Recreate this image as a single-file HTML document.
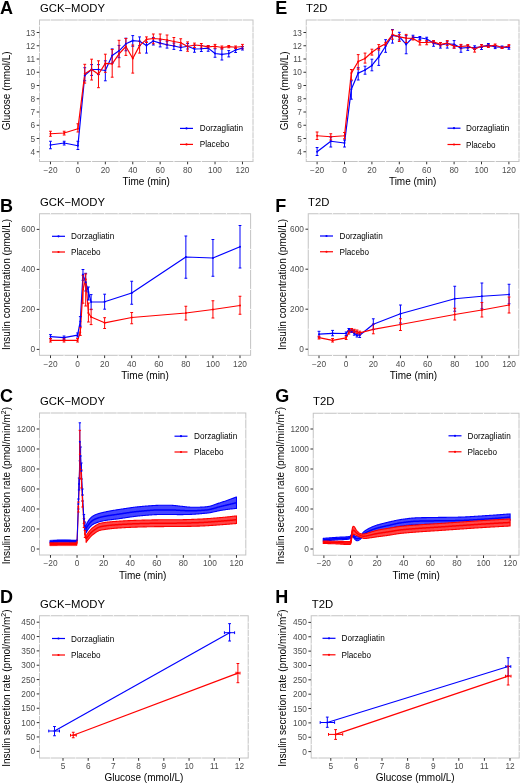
<!DOCTYPE html>
<html><head><meta charset="utf-8"><style>html,body{margin:0;padding:0;background:#fff;width:520px;height:784px;overflow:hidden}</style></head>
<body>
<svg width="520" height="784" viewBox="0 0 520 784" style="display:block;filter:blur(0.3px)">
<rect width="520" height="784" fill="#fff"/>
<g font-family='"Liberation Sans", sans-serif'>
<rect x="39.5" y="20" width="213.5" height="141.5" fill="none" stroke="#c4c4c4" stroke-width="1"/>
<rect x="49.97" y="19.4" width="1" height="1.2" fill="#fff"/>
<rect x="49.97" y="160.9" width="1" height="1.2" fill="#fff"/>
<rect x="63.69" y="19.4" width="1" height="1.2" fill="#fff"/>
<rect x="63.69" y="160.9" width="1" height="1.2" fill="#fff"/>
<rect x="77.4" y="19.4" width="1" height="1.2" fill="#fff"/>
<rect x="77.4" y="160.9" width="1" height="1.2" fill="#fff"/>
<rect x="91.11" y="19.4" width="1" height="1.2" fill="#fff"/>
<rect x="91.11" y="160.9" width="1" height="1.2" fill="#fff"/>
<rect x="104.83" y="19.4" width="1" height="1.2" fill="#fff"/>
<rect x="104.83" y="160.9" width="1" height="1.2" fill="#fff"/>
<rect x="118.54" y="19.4" width="1" height="1.2" fill="#fff"/>
<rect x="118.54" y="160.9" width="1" height="1.2" fill="#fff"/>
<rect x="132.26" y="19.4" width="1" height="1.2" fill="#fff"/>
<rect x="132.26" y="160.9" width="1" height="1.2" fill="#fff"/>
<rect x="145.97" y="19.4" width="1" height="1.2" fill="#fff"/>
<rect x="145.97" y="160.9" width="1" height="1.2" fill="#fff"/>
<rect x="159.68" y="19.4" width="1" height="1.2" fill="#fff"/>
<rect x="159.68" y="160.9" width="1" height="1.2" fill="#fff"/>
<rect x="173.4" y="19.4" width="1" height="1.2" fill="#fff"/>
<rect x="173.4" y="160.9" width="1" height="1.2" fill="#fff"/>
<rect x="187.11" y="19.4" width="1" height="1.2" fill="#fff"/>
<rect x="187.11" y="160.9" width="1" height="1.2" fill="#fff"/>
<rect x="200.83" y="19.4" width="1" height="1.2" fill="#fff"/>
<rect x="200.83" y="160.9" width="1" height="1.2" fill="#fff"/>
<rect x="214.54" y="19.4" width="1" height="1.2" fill="#fff"/>
<rect x="214.54" y="160.9" width="1" height="1.2" fill="#fff"/>
<rect x="228.25" y="19.4" width="1" height="1.2" fill="#fff"/>
<rect x="228.25" y="160.9" width="1" height="1.2" fill="#fff"/>
<rect x="241.97" y="19.4" width="1" height="1.2" fill="#fff"/>
<rect x="241.97" y="160.9" width="1" height="1.2" fill="#fff"/>
<rect x="38.9" y="157.88" width="1.2" height="1" fill="#fff"/>
<rect x="252.4" y="157.88" width="1.2" height="1" fill="#fff"/>
<rect x="38.9" y="151.25" width="1.2" height="1" fill="#fff"/>
<rect x="252.4" y="151.25" width="1.2" height="1" fill="#fff"/>
<rect x="38.9" y="144.62" width="1.2" height="1" fill="#fff"/>
<rect x="252.4" y="144.62" width="1.2" height="1" fill="#fff"/>
<rect x="38.9" y="138" width="1.2" height="1" fill="#fff"/>
<rect x="252.4" y="138" width="1.2" height="1" fill="#fff"/>
<rect x="38.9" y="131.38" width="1.2" height="1" fill="#fff"/>
<rect x="252.4" y="131.38" width="1.2" height="1" fill="#fff"/>
<rect x="38.9" y="124.75" width="1.2" height="1" fill="#fff"/>
<rect x="252.4" y="124.75" width="1.2" height="1" fill="#fff"/>
<rect x="38.9" y="118.12" width="1.2" height="1" fill="#fff"/>
<rect x="252.4" y="118.12" width="1.2" height="1" fill="#fff"/>
<rect x="38.9" y="111.5" width="1.2" height="1" fill="#fff"/>
<rect x="252.4" y="111.5" width="1.2" height="1" fill="#fff"/>
<rect x="38.9" y="104.88" width="1.2" height="1" fill="#fff"/>
<rect x="252.4" y="104.88" width="1.2" height="1" fill="#fff"/>
<rect x="38.9" y="98.25" width="1.2" height="1" fill="#fff"/>
<rect x="252.4" y="98.25" width="1.2" height="1" fill="#fff"/>
<rect x="38.9" y="91.62" width="1.2" height="1" fill="#fff"/>
<rect x="252.4" y="91.62" width="1.2" height="1" fill="#fff"/>
<rect x="38.9" y="85" width="1.2" height="1" fill="#fff"/>
<rect x="252.4" y="85" width="1.2" height="1" fill="#fff"/>
<rect x="38.9" y="78.38" width="1.2" height="1" fill="#fff"/>
<rect x="252.4" y="78.38" width="1.2" height="1" fill="#fff"/>
<rect x="38.9" y="71.75" width="1.2" height="1" fill="#fff"/>
<rect x="252.4" y="71.75" width="1.2" height="1" fill="#fff"/>
<rect x="38.9" y="65.12" width="1.2" height="1" fill="#fff"/>
<rect x="252.4" y="65.12" width="1.2" height="1" fill="#fff"/>
<rect x="38.9" y="58.5" width="1.2" height="1" fill="#fff"/>
<rect x="252.4" y="58.5" width="1.2" height="1" fill="#fff"/>
<rect x="38.9" y="51.88" width="1.2" height="1" fill="#fff"/>
<rect x="252.4" y="51.88" width="1.2" height="1" fill="#fff"/>
<rect x="38.9" y="45.25" width="1.2" height="1" fill="#fff"/>
<rect x="252.4" y="45.25" width="1.2" height="1" fill="#fff"/>
<rect x="38.9" y="38.62" width="1.2" height="1" fill="#fff"/>
<rect x="252.4" y="38.62" width="1.2" height="1" fill="#fff"/>
<rect x="38.9" y="32" width="1.2" height="1" fill="#fff"/>
<rect x="252.4" y="32" width="1.2" height="1" fill="#fff"/>
<rect x="38.9" y="25.38" width="1.2" height="1" fill="#fff"/>
<rect x="252.4" y="25.38" width="1.2" height="1" fill="#fff"/>
<line x1="50.47" y1="161.5" x2="50.47" y2="164.3" stroke="#333333" stroke-width="1"/>
<text x="50.47" y="172.7" font-size="8.3" fill="#4d4d4d" text-anchor="middle">−20</text>
<line x1="77.9" y1="161.5" x2="77.9" y2="164.3" stroke="#333333" stroke-width="1"/>
<text x="77.9" y="172.7" font-size="8.3" fill="#4d4d4d" text-anchor="middle">0</text>
<line x1="105.33" y1="161.5" x2="105.33" y2="164.3" stroke="#333333" stroke-width="1"/>
<text x="105.33" y="172.7" font-size="8.3" fill="#4d4d4d" text-anchor="middle">20</text>
<line x1="132.76" y1="161.5" x2="132.76" y2="164.3" stroke="#333333" stroke-width="1"/>
<text x="132.76" y="172.7" font-size="8.3" fill="#4d4d4d" text-anchor="middle">40</text>
<line x1="160.18" y1="161.5" x2="160.18" y2="164.3" stroke="#333333" stroke-width="1"/>
<text x="160.18" y="172.7" font-size="8.3" fill="#4d4d4d" text-anchor="middle">60</text>
<line x1="187.61" y1="161.5" x2="187.61" y2="164.3" stroke="#333333" stroke-width="1"/>
<text x="187.61" y="172.7" font-size="8.3" fill="#4d4d4d" text-anchor="middle">80</text>
<line x1="215.04" y1="161.5" x2="215.04" y2="164.3" stroke="#333333" stroke-width="1"/>
<text x="215.04" y="172.7" font-size="8.3" fill="#4d4d4d" text-anchor="middle">100</text>
<line x1="242.47" y1="161.5" x2="242.47" y2="164.3" stroke="#333333" stroke-width="1"/>
<text x="242.47" y="172.7" font-size="8.3" fill="#4d4d4d" text-anchor="middle">120</text>
<line x1="36.7" y1="151.75" x2="39.5" y2="151.75" stroke="#333333" stroke-width="1"/>
<text x="35.2" y="154.75" font-size="8.3" fill="#4d4d4d" text-anchor="end">4</text>
<line x1="36.7" y1="138.5" x2="39.5" y2="138.5" stroke="#333333" stroke-width="1"/>
<text x="35.2" y="141.5" font-size="8.3" fill="#4d4d4d" text-anchor="end">5</text>
<line x1="36.7" y1="125.25" x2="39.5" y2="125.25" stroke="#333333" stroke-width="1"/>
<text x="35.2" y="128.25" font-size="8.3" fill="#4d4d4d" text-anchor="end">6</text>
<line x1="36.7" y1="112" x2="39.5" y2="112" stroke="#333333" stroke-width="1"/>
<text x="35.2" y="115" font-size="8.3" fill="#4d4d4d" text-anchor="end">7</text>
<line x1="36.7" y1="98.75" x2="39.5" y2="98.75" stroke="#333333" stroke-width="1"/>
<text x="35.2" y="101.75" font-size="8.3" fill="#4d4d4d" text-anchor="end">8</text>
<line x1="36.7" y1="85.5" x2="39.5" y2="85.5" stroke="#333333" stroke-width="1"/>
<text x="35.2" y="88.5" font-size="8.3" fill="#4d4d4d" text-anchor="end">9</text>
<line x1="36.7" y1="72.25" x2="39.5" y2="72.25" stroke="#333333" stroke-width="1"/>
<text x="35.2" y="75.25" font-size="8.3" fill="#4d4d4d" text-anchor="end">10</text>
<line x1="36.7" y1="59" x2="39.5" y2="59" stroke="#333333" stroke-width="1"/>
<text x="35.2" y="62" font-size="8.3" fill="#4d4d4d" text-anchor="end">11</text>
<line x1="36.7" y1="45.75" x2="39.5" y2="45.75" stroke="#333333" stroke-width="1"/>
<text x="35.2" y="48.75" font-size="8.3" fill="#4d4d4d" text-anchor="end">12</text>
<line x1="36.7" y1="32.5" x2="39.5" y2="32.5" stroke="#333333" stroke-width="1"/>
<text x="35.2" y="35.5" font-size="8.3" fill="#4d4d4d" text-anchor="end">13</text>
<text x="0" y="13.9" font-size="18" font-weight="bold" fill="#000">A</text>
<text x="40" y="12.1" font-size="11.3" fill="#000">GCK−MODY</text>
<text transform="translate(9.9,90.8) rotate(-90)" font-size="10" fill="#000" text-anchor="middle">Glucose (mmol/L)</text>
<text x="146.25" y="185" font-size="10" fill="#000" text-anchor="middle">Time (min)</text>
<line x1="180" y1="128.4" x2="193" y2="128.4" stroke="#0000ff" stroke-width="1.2"/>
<circle cx="186.5" cy="128.4" r="1.1" fill="#0000ff"/>
<text x="199.8" y="131.4" font-size="8.3" fill="#000" textLength="43.2" lengthAdjust="spacingAndGlyphs">Dorzagliatin</text>
<line x1="180" y1="144.4" x2="193" y2="144.4" stroke="#ff0000" stroke-width="1.2"/>
<circle cx="186.5" cy="144.4" r="1.1" fill="#ff0000"/>
<text x="199.8" y="147.4" font-size="8.3" fill="#000" textLength="29.5" lengthAdjust="spacingAndGlyphs">Placebo</text>
<polyline points="50.47,145 64.19,143 77.9,145.75 84.76,75.4 91.61,69.5 98.47,69.5 105.33,70.5 112.19,55.4 119.04,50.8 125.9,43.8 132.76,40.6 139.61,41.25 146.47,45.6 153.33,41 160.18,43.1 167.04,44.75 173.9,46 180.75,47.5 187.61,46.25 194.47,49 201.33,48.75 208.18,48.1 215.04,53.5 221.9,54.4 228.75,53.5 235.61,50 242.47,48.1" fill="none" stroke="#0000ff" stroke-width="1.2" stroke-linejoin="round"/>
<polyline points="50.47,133.75 64.19,133 77.9,128.75 84.76,73.8 91.61,69.5 98.47,74.2 105.33,63.4 112.19,63.8 119.04,53.8 125.9,46.5 132.76,58.5 139.61,45.6 146.47,39.4 153.33,38.5 160.18,39 167.04,40 173.9,41.5 180.75,42.75 187.61,46.5 194.47,45 201.33,45.6 208.18,46.9 215.04,46.25 221.9,47.5 228.75,46.6 235.61,47.25 242.47,46.5" fill="none" stroke="#ff0000" stroke-width="1.2" stroke-linejoin="round"/>
<path d="M50.47,141.25V148.75M49.07,141.25h2.8M49.07,148.75h2.8" stroke="#0000ff" stroke-width="1.0" fill="none"/>
<path d="M64.19,141.25V145M62.79,141.25h2.8M62.79,145h2.8" stroke="#0000ff" stroke-width="1.0" fill="none"/>
<path d="M77.9,141.25V149.5M76.5,141.25h2.8M76.5,149.5h2.8" stroke="#0000ff" stroke-width="1.0" fill="none"/>
<path d="M84.76,67.7V80.8M83.36,67.7h2.8M83.36,80.8h2.8" stroke="#0000ff" stroke-width="1.0" fill="none"/>
<path d="M91.61,64.6V75.4M90.21,64.6h2.8M90.21,75.4h2.8" stroke="#0000ff" stroke-width="1.0" fill="none"/>
<path d="M98.47,64.6V74.6M97.07,64.6h2.8M97.07,74.6h2.8" stroke="#0000ff" stroke-width="1.0" fill="none"/>
<path d="M105.33,60.8V80.8M103.93,60.8h2.8M103.93,80.8h2.8" stroke="#0000ff" stroke-width="1.0" fill="none"/>
<path d="M112.19,48.9V63.1M110.78,48.9h2.8M110.78,63.1h2.8" stroke="#0000ff" stroke-width="1.0" fill="none"/>
<path d="M119.04,45.4V57.7M117.64,45.4h2.8M117.64,57.7h2.8" stroke="#0000ff" stroke-width="1.0" fill="none"/>
<path d="M125.9,38.2V50.8M124.5,38.2h2.8M124.5,50.8h2.8" stroke="#0000ff" stroke-width="1.0" fill="none"/>
<path d="M132.76,35.6V46.25M131.36,35.6h2.8M131.36,46.25h2.8" stroke="#0000ff" stroke-width="1.0" fill="none"/>
<path d="M139.61,36.9V45.6M138.21,36.9h2.8M138.21,45.6h2.8" stroke="#0000ff" stroke-width="1.0" fill="none"/>
<path d="M146.47,41.9V53.1M145.07,41.9h2.8M145.07,53.1h2.8" stroke="#0000ff" stroke-width="1.0" fill="none"/>
<path d="M153.33,37.5V45M151.93,37.5h2.8M151.93,45h2.8" stroke="#0000ff" stroke-width="1.0" fill="none"/>
<path d="M160.18,40V46.9M158.78,40h2.8M158.78,46.9h2.8" stroke="#0000ff" stroke-width="1.0" fill="none"/>
<path d="M167.04,41.25V48.1M165.64,41.25h2.8M165.64,48.1h2.8" stroke="#0000ff" stroke-width="1.0" fill="none"/>
<path d="M173.9,43.1V49.4M172.5,43.1h2.8M172.5,49.4h2.8" stroke="#0000ff" stroke-width="1.0" fill="none"/>
<path d="M180.75,45V50.6M179.35,45h2.8M179.35,50.6h2.8" stroke="#0000ff" stroke-width="1.0" fill="none"/>
<path d="M187.61,43.5V49M186.21,43.5h2.8M186.21,49h2.8" stroke="#0000ff" stroke-width="1.0" fill="none"/>
<path d="M194.47,45.6V52.25M193.07,45.6h2.8M193.07,52.25h2.8" stroke="#0000ff" stroke-width="1.0" fill="none"/>
<path d="M201.33,45.6V51.5M199.93,45.6h2.8M199.93,51.5h2.8" stroke="#0000ff" stroke-width="1.0" fill="none"/>
<path d="M208.18,45.6V51.25M206.78,45.6h2.8M206.78,51.25h2.8" stroke="#0000ff" stroke-width="1.0" fill="none"/>
<path d="M215.04,48.75V57.25M213.64,48.75h2.8M213.64,57.25h2.8" stroke="#0000ff" stroke-width="1.0" fill="none"/>
<path d="M221.9,48.75V60M220.5,48.75h2.8M220.5,60h2.8" stroke="#0000ff" stroke-width="1.0" fill="none"/>
<path d="M228.75,50.6V56.9M227.35,50.6h2.8M227.35,56.9h2.8" stroke="#0000ff" stroke-width="1.0" fill="none"/>
<path d="M235.61,48.1V52.5M234.21,48.1h2.8M234.21,52.5h2.8" stroke="#0000ff" stroke-width="1.0" fill="none"/>
<path d="M242.47,46.5V50M241.07,46.5h2.8M241.07,50h2.8" stroke="#0000ff" stroke-width="1.0" fill="none"/>
<path d="M50.47,131.25V136.25M49.07,131.25h2.8M49.07,136.25h2.8" stroke="#ff0000" stroke-width="1.0" fill="none"/>
<path d="M64.19,131.25V135M62.79,131.25h2.8M62.79,135h2.8" stroke="#ff0000" stroke-width="1.0" fill="none"/>
<path d="M77.9,123.75V132M76.5,123.75h2.8M76.5,132h2.8" stroke="#ff0000" stroke-width="1.0" fill="none"/>
<path d="M84.76,64.3V83.1M83.36,64.3h2.8M83.36,83.1h2.8" stroke="#ff0000" stroke-width="1.0" fill="none"/>
<path d="M91.61,59.2V80M90.21,59.2h2.8M90.21,80h2.8" stroke="#ff0000" stroke-width="1.0" fill="none"/>
<path d="M98.47,60.8V87.7M97.07,60.8h2.8M97.07,87.7h2.8" stroke="#ff0000" stroke-width="1.0" fill="none"/>
<path d="M105.33,54.2V72.3M103.93,54.2h2.8M103.93,72.3h2.8" stroke="#ff0000" stroke-width="1.0" fill="none"/>
<path d="M112.19,49.5V77.2M110.78,49.5h2.8M110.78,77.2h2.8" stroke="#ff0000" stroke-width="1.0" fill="none"/>
<path d="M119.04,40.3V66.9M117.64,40.3h2.8M117.64,66.9h2.8" stroke="#ff0000" stroke-width="1.0" fill="none"/>
<path d="M125.9,38.5V55.4M124.5,38.5h2.8M124.5,55.4h2.8" stroke="#ff0000" stroke-width="1.0" fill="none"/>
<path d="M132.76,45V73.1M131.36,45h2.8M131.36,73.1h2.8" stroke="#ff0000" stroke-width="1.0" fill="none"/>
<path d="M139.61,41.25V53.1M138.21,41.25h2.8M138.21,53.1h2.8" stroke="#ff0000" stroke-width="1.0" fill="none"/>
<path d="M146.47,36.9V42.5M145.07,36.9h2.8M145.07,42.5h2.8" stroke="#ff0000" stroke-width="1.0" fill="none"/>
<path d="M153.33,34V43.75M151.93,34h2.8M151.93,43.75h2.8" stroke="#ff0000" stroke-width="1.0" fill="none"/>
<path d="M160.18,34V43.75M158.78,34h2.8M158.78,43.75h2.8" stroke="#ff0000" stroke-width="1.0" fill="none"/>
<path d="M167.04,35V45M165.64,35h2.8M165.64,45h2.8" stroke="#ff0000" stroke-width="1.0" fill="none"/>
<path d="M173.9,37.5V45.6M172.5,37.5h2.8M172.5,45.6h2.8" stroke="#ff0000" stroke-width="1.0" fill="none"/>
<path d="M180.75,38.75V46.9M179.35,38.75h2.8M179.35,46.9h2.8" stroke="#ff0000" stroke-width="1.0" fill="none"/>
<path d="M187.61,41.9V51.25M186.21,41.9h2.8M186.21,51.25h2.8" stroke="#ff0000" stroke-width="1.0" fill="none"/>
<path d="M194.47,43.1V47.5M193.07,43.1h2.8M193.07,47.5h2.8" stroke="#ff0000" stroke-width="1.0" fill="none"/>
<path d="M201.33,43.5V48.1M199.93,43.5h2.8M199.93,48.1h2.8" stroke="#ff0000" stroke-width="1.0" fill="none"/>
<path d="M208.18,45.6V48.1M206.78,45.6h2.8M206.78,48.1h2.8" stroke="#ff0000" stroke-width="1.0" fill="none"/>
<path d="M215.04,44.4V48.1M213.64,44.4h2.8M213.64,48.1h2.8" stroke="#ff0000" stroke-width="1.0" fill="none"/>
<path d="M221.9,46V49M220.5,46h2.8M220.5,49h2.8" stroke="#ff0000" stroke-width="1.0" fill="none"/>
<path d="M228.75,45.5V47.8M227.35,45.5h2.8M227.35,47.8h2.8" stroke="#ff0000" stroke-width="1.0" fill="none"/>
<path d="M235.61,46V48.5M234.21,46h2.8M234.21,48.5h2.8" stroke="#ff0000" stroke-width="1.0" fill="none"/>
<path d="M242.47,44.4V48.75M241.07,44.4h2.8M241.07,48.75h2.8" stroke="#ff0000" stroke-width="1.0" fill="none"/>
<circle cx="50.47" cy="145" r="1.0" fill="#0000ff"/>
<circle cx="64.19" cy="143" r="1.0" fill="#0000ff"/>
<circle cx="77.9" cy="145.75" r="1.0" fill="#0000ff"/>
<circle cx="84.76" cy="75.4" r="1.0" fill="#0000ff"/>
<circle cx="91.61" cy="69.5" r="1.0" fill="#0000ff"/>
<circle cx="98.47" cy="69.5" r="1.0" fill="#0000ff"/>
<circle cx="105.33" cy="70.5" r="1.0" fill="#0000ff"/>
<circle cx="112.19" cy="55.4" r="1.0" fill="#0000ff"/>
<circle cx="119.04" cy="50.8" r="1.0" fill="#0000ff"/>
<circle cx="125.9" cy="43.8" r="1.0" fill="#0000ff"/>
<circle cx="132.76" cy="40.6" r="1.0" fill="#0000ff"/>
<circle cx="139.61" cy="41.25" r="1.0" fill="#0000ff"/>
<circle cx="146.47" cy="45.6" r="1.0" fill="#0000ff"/>
<circle cx="153.33" cy="41" r="1.0" fill="#0000ff"/>
<circle cx="160.18" cy="43.1" r="1.0" fill="#0000ff"/>
<circle cx="167.04" cy="44.75" r="1.0" fill="#0000ff"/>
<circle cx="173.9" cy="46" r="1.0" fill="#0000ff"/>
<circle cx="180.75" cy="47.5" r="1.0" fill="#0000ff"/>
<circle cx="187.61" cy="46.25" r="1.0" fill="#0000ff"/>
<circle cx="194.47" cy="49" r="1.0" fill="#0000ff"/>
<circle cx="201.33" cy="48.75" r="1.0" fill="#0000ff"/>
<circle cx="208.18" cy="48.1" r="1.0" fill="#0000ff"/>
<circle cx="215.04" cy="53.5" r="1.0" fill="#0000ff"/>
<circle cx="221.9" cy="54.4" r="1.0" fill="#0000ff"/>
<circle cx="228.75" cy="53.5" r="1.0" fill="#0000ff"/>
<circle cx="235.61" cy="50" r="1.0" fill="#0000ff"/>
<circle cx="242.47" cy="48.1" r="1.0" fill="#0000ff"/>
<circle cx="50.47" cy="133.75" r="1.0" fill="#ff0000"/>
<circle cx="64.19" cy="133" r="1.0" fill="#ff0000"/>
<circle cx="77.9" cy="128.75" r="1.0" fill="#ff0000"/>
<circle cx="84.76" cy="73.8" r="1.0" fill="#ff0000"/>
<circle cx="91.61" cy="69.5" r="1.0" fill="#ff0000"/>
<circle cx="98.47" cy="74.2" r="1.0" fill="#ff0000"/>
<circle cx="105.33" cy="63.4" r="1.0" fill="#ff0000"/>
<circle cx="112.19" cy="63.8" r="1.0" fill="#ff0000"/>
<circle cx="119.04" cy="53.8" r="1.0" fill="#ff0000"/>
<circle cx="125.9" cy="46.5" r="1.0" fill="#ff0000"/>
<circle cx="132.76" cy="58.5" r="1.0" fill="#ff0000"/>
<circle cx="139.61" cy="45.6" r="1.0" fill="#ff0000"/>
<circle cx="146.47" cy="39.4" r="1.0" fill="#ff0000"/>
<circle cx="153.33" cy="38.5" r="1.0" fill="#ff0000"/>
<circle cx="160.18" cy="39" r="1.0" fill="#ff0000"/>
<circle cx="167.04" cy="40" r="1.0" fill="#ff0000"/>
<circle cx="173.9" cy="41.5" r="1.0" fill="#ff0000"/>
<circle cx="180.75" cy="42.75" r="1.0" fill="#ff0000"/>
<circle cx="187.61" cy="46.5" r="1.0" fill="#ff0000"/>
<circle cx="194.47" cy="45" r="1.0" fill="#ff0000"/>
<circle cx="201.33" cy="45.6" r="1.0" fill="#ff0000"/>
<circle cx="208.18" cy="46.9" r="1.0" fill="#ff0000"/>
<circle cx="215.04" cy="46.25" r="1.0" fill="#ff0000"/>
<circle cx="221.9" cy="47.5" r="1.0" fill="#ff0000"/>
<circle cx="228.75" cy="46.6" r="1.0" fill="#ff0000"/>
<circle cx="235.61" cy="47.25" r="1.0" fill="#ff0000"/>
<circle cx="242.47" cy="46.5" r="1.0" fill="#ff0000"/>
<rect x="306.25" y="20" width="212.75" height="141.5" fill="none" stroke="#c4c4c4" stroke-width="1"/>
<rect x="316.6" y="19.4" width="1" height="1.2" fill="#fff"/>
<rect x="316.6" y="160.9" width="1" height="1.2" fill="#fff"/>
<rect x="330.3" y="19.4" width="1" height="1.2" fill="#fff"/>
<rect x="330.3" y="160.9" width="1" height="1.2" fill="#fff"/>
<rect x="344" y="19.4" width="1" height="1.2" fill="#fff"/>
<rect x="344" y="160.9" width="1" height="1.2" fill="#fff"/>
<rect x="357.7" y="19.4" width="1" height="1.2" fill="#fff"/>
<rect x="357.7" y="160.9" width="1" height="1.2" fill="#fff"/>
<rect x="371.4" y="19.4" width="1" height="1.2" fill="#fff"/>
<rect x="371.4" y="160.9" width="1" height="1.2" fill="#fff"/>
<rect x="385.1" y="19.4" width="1" height="1.2" fill="#fff"/>
<rect x="385.1" y="160.9" width="1" height="1.2" fill="#fff"/>
<rect x="398.8" y="19.4" width="1" height="1.2" fill="#fff"/>
<rect x="398.8" y="160.9" width="1" height="1.2" fill="#fff"/>
<rect x="412.5" y="19.4" width="1" height="1.2" fill="#fff"/>
<rect x="412.5" y="160.9" width="1" height="1.2" fill="#fff"/>
<rect x="426.2" y="19.4" width="1" height="1.2" fill="#fff"/>
<rect x="426.2" y="160.9" width="1" height="1.2" fill="#fff"/>
<rect x="439.9" y="19.4" width="1" height="1.2" fill="#fff"/>
<rect x="439.9" y="160.9" width="1" height="1.2" fill="#fff"/>
<rect x="453.6" y="19.4" width="1" height="1.2" fill="#fff"/>
<rect x="453.6" y="160.9" width="1" height="1.2" fill="#fff"/>
<rect x="467.3" y="19.4" width="1" height="1.2" fill="#fff"/>
<rect x="467.3" y="160.9" width="1" height="1.2" fill="#fff"/>
<rect x="481" y="19.4" width="1" height="1.2" fill="#fff"/>
<rect x="481" y="160.9" width="1" height="1.2" fill="#fff"/>
<rect x="494.7" y="19.4" width="1" height="1.2" fill="#fff"/>
<rect x="494.7" y="160.9" width="1" height="1.2" fill="#fff"/>
<rect x="508.4" y="19.4" width="1" height="1.2" fill="#fff"/>
<rect x="508.4" y="160.9" width="1" height="1.2" fill="#fff"/>
<rect x="305.65" y="157.88" width="1.2" height="1" fill="#fff"/>
<rect x="518.4" y="157.88" width="1.2" height="1" fill="#fff"/>
<rect x="305.65" y="151.25" width="1.2" height="1" fill="#fff"/>
<rect x="518.4" y="151.25" width="1.2" height="1" fill="#fff"/>
<rect x="305.65" y="144.62" width="1.2" height="1" fill="#fff"/>
<rect x="518.4" y="144.62" width="1.2" height="1" fill="#fff"/>
<rect x="305.65" y="138" width="1.2" height="1" fill="#fff"/>
<rect x="518.4" y="138" width="1.2" height="1" fill="#fff"/>
<rect x="305.65" y="131.38" width="1.2" height="1" fill="#fff"/>
<rect x="518.4" y="131.38" width="1.2" height="1" fill="#fff"/>
<rect x="305.65" y="124.75" width="1.2" height="1" fill="#fff"/>
<rect x="518.4" y="124.75" width="1.2" height="1" fill="#fff"/>
<rect x="305.65" y="118.12" width="1.2" height="1" fill="#fff"/>
<rect x="518.4" y="118.12" width="1.2" height="1" fill="#fff"/>
<rect x="305.65" y="111.5" width="1.2" height="1" fill="#fff"/>
<rect x="518.4" y="111.5" width="1.2" height="1" fill="#fff"/>
<rect x="305.65" y="104.88" width="1.2" height="1" fill="#fff"/>
<rect x="518.4" y="104.88" width="1.2" height="1" fill="#fff"/>
<rect x="305.65" y="98.25" width="1.2" height="1" fill="#fff"/>
<rect x="518.4" y="98.25" width="1.2" height="1" fill="#fff"/>
<rect x="305.65" y="91.62" width="1.2" height="1" fill="#fff"/>
<rect x="518.4" y="91.62" width="1.2" height="1" fill="#fff"/>
<rect x="305.65" y="85" width="1.2" height="1" fill="#fff"/>
<rect x="518.4" y="85" width="1.2" height="1" fill="#fff"/>
<rect x="305.65" y="78.38" width="1.2" height="1" fill="#fff"/>
<rect x="518.4" y="78.38" width="1.2" height="1" fill="#fff"/>
<rect x="305.65" y="71.75" width="1.2" height="1" fill="#fff"/>
<rect x="518.4" y="71.75" width="1.2" height="1" fill="#fff"/>
<rect x="305.65" y="65.12" width="1.2" height="1" fill="#fff"/>
<rect x="518.4" y="65.12" width="1.2" height="1" fill="#fff"/>
<rect x="305.65" y="58.5" width="1.2" height="1" fill="#fff"/>
<rect x="518.4" y="58.5" width="1.2" height="1" fill="#fff"/>
<rect x="305.65" y="51.88" width="1.2" height="1" fill="#fff"/>
<rect x="518.4" y="51.88" width="1.2" height="1" fill="#fff"/>
<rect x="305.65" y="45.25" width="1.2" height="1" fill="#fff"/>
<rect x="518.4" y="45.25" width="1.2" height="1" fill="#fff"/>
<rect x="305.65" y="38.62" width="1.2" height="1" fill="#fff"/>
<rect x="518.4" y="38.62" width="1.2" height="1" fill="#fff"/>
<rect x="305.65" y="32" width="1.2" height="1" fill="#fff"/>
<rect x="518.4" y="32" width="1.2" height="1" fill="#fff"/>
<rect x="305.65" y="25.38" width="1.2" height="1" fill="#fff"/>
<rect x="518.4" y="25.38" width="1.2" height="1" fill="#fff"/>
<line x1="317.1" y1="161.5" x2="317.1" y2="164.3" stroke="#333333" stroke-width="1"/>
<text x="317.1" y="172.7" font-size="8.3" fill="#4d4d4d" text-anchor="middle">−20</text>
<line x1="344.5" y1="161.5" x2="344.5" y2="164.3" stroke="#333333" stroke-width="1"/>
<text x="344.5" y="172.7" font-size="8.3" fill="#4d4d4d" text-anchor="middle">0</text>
<line x1="371.9" y1="161.5" x2="371.9" y2="164.3" stroke="#333333" stroke-width="1"/>
<text x="371.9" y="172.7" font-size="8.3" fill="#4d4d4d" text-anchor="middle">20</text>
<line x1="399.3" y1="161.5" x2="399.3" y2="164.3" stroke="#333333" stroke-width="1"/>
<text x="399.3" y="172.7" font-size="8.3" fill="#4d4d4d" text-anchor="middle">40</text>
<line x1="426.7" y1="161.5" x2="426.7" y2="164.3" stroke="#333333" stroke-width="1"/>
<text x="426.7" y="172.7" font-size="8.3" fill="#4d4d4d" text-anchor="middle">60</text>
<line x1="454.1" y1="161.5" x2="454.1" y2="164.3" stroke="#333333" stroke-width="1"/>
<text x="454.1" y="172.7" font-size="8.3" fill="#4d4d4d" text-anchor="middle">80</text>
<line x1="481.5" y1="161.5" x2="481.5" y2="164.3" stroke="#333333" stroke-width="1"/>
<text x="481.5" y="172.7" font-size="8.3" fill="#4d4d4d" text-anchor="middle">100</text>
<line x1="508.9" y1="161.5" x2="508.9" y2="164.3" stroke="#333333" stroke-width="1"/>
<text x="508.9" y="172.7" font-size="8.3" fill="#4d4d4d" text-anchor="middle">120</text>
<line x1="303.45" y1="151.75" x2="306.25" y2="151.75" stroke="#333333" stroke-width="1"/>
<text x="301.95" y="154.75" font-size="8.3" fill="#4d4d4d" text-anchor="end">4</text>
<line x1="303.45" y1="138.5" x2="306.25" y2="138.5" stroke="#333333" stroke-width="1"/>
<text x="301.95" y="141.5" font-size="8.3" fill="#4d4d4d" text-anchor="end">5</text>
<line x1="303.45" y1="125.25" x2="306.25" y2="125.25" stroke="#333333" stroke-width="1"/>
<text x="301.95" y="128.25" font-size="8.3" fill="#4d4d4d" text-anchor="end">6</text>
<line x1="303.45" y1="112" x2="306.25" y2="112" stroke="#333333" stroke-width="1"/>
<text x="301.95" y="115" font-size="8.3" fill="#4d4d4d" text-anchor="end">7</text>
<line x1="303.45" y1="98.75" x2="306.25" y2="98.75" stroke="#333333" stroke-width="1"/>
<text x="301.95" y="101.75" font-size="8.3" fill="#4d4d4d" text-anchor="end">8</text>
<line x1="303.45" y1="85.5" x2="306.25" y2="85.5" stroke="#333333" stroke-width="1"/>
<text x="301.95" y="88.5" font-size="8.3" fill="#4d4d4d" text-anchor="end">9</text>
<line x1="303.45" y1="72.25" x2="306.25" y2="72.25" stroke="#333333" stroke-width="1"/>
<text x="301.95" y="75.25" font-size="8.3" fill="#4d4d4d" text-anchor="end">10</text>
<line x1="303.45" y1="59" x2="306.25" y2="59" stroke="#333333" stroke-width="1"/>
<text x="301.95" y="62" font-size="8.3" fill="#4d4d4d" text-anchor="end">11</text>
<line x1="303.45" y1="45.75" x2="306.25" y2="45.75" stroke="#333333" stroke-width="1"/>
<text x="301.95" y="48.75" font-size="8.3" fill="#4d4d4d" text-anchor="end">12</text>
<line x1="303.45" y1="32.5" x2="306.25" y2="32.5" stroke="#333333" stroke-width="1"/>
<text x="301.95" y="35.5" font-size="8.3" fill="#4d4d4d" text-anchor="end">13</text>
<text x="275.2" y="13.6" font-size="18" font-weight="bold" fill="#000">E</text>
<text x="306" y="12.1" font-size="11.3" fill="#000">T2D</text>
<text transform="translate(287.9,90.8) rotate(-90)" font-size="10" fill="#000" text-anchor="middle">Glucose (mmol/L)</text>
<text x="412.62" y="185" font-size="10" fill="#000" text-anchor="middle">Time (min)</text>
<line x1="447.5" y1="128.2" x2="460.5" y2="128.2" stroke="#0000ff" stroke-width="1.2"/>
<circle cx="454" cy="128.2" r="1.1" fill="#0000ff"/>
<text x="466" y="131.2" font-size="8.3" fill="#000" textLength="43.2" lengthAdjust="spacingAndGlyphs">Dorzagliatin</text>
<line x1="447.5" y1="144.5" x2="460.5" y2="144.5" stroke="#ff0000" stroke-width="1.2"/>
<circle cx="454" cy="144.5" r="1.1" fill="#ff0000"/>
<text x="466" y="147.5" font-size="8.3" fill="#000" textLength="29.5" lengthAdjust="spacingAndGlyphs">Placebo</text>
<polyline points="317.1,151.75 330.8,141.25 344.5,143 351.35,89.2 358.2,73.1 365.05,70 371.9,65.4 378.75,56.9 385.6,46.2 392.45,35.4 399.3,36.6 406.15,44.4 413,37.25 419.85,37.75 426.7,39 433.55,43.1 440.4,45 447.25,43.75 454.1,44.4 460.95,48.1 467.8,47.5 474.65,47.5 481.5,46.9 488.35,45.2 495.2,46.9 502.05,47.1 508.9,47.5" fill="none" stroke="#0000ff" stroke-width="1.2" stroke-linejoin="round"/>
<polyline points="317.1,135.75 330.8,136.75 344.5,135.75 351.35,73.1 358.2,61.5 365.05,58.5 371.9,52.3 378.75,47.4 385.6,43.8 392.45,34.6 399.3,36.9 406.15,38.1 413,38.5 419.85,42.5 426.7,42.5 433.55,41.9 440.4,44.4 447.25,43.1 454.1,46.25 460.95,46.5 467.8,45.8 474.65,49.2 481.5,46 488.35,46.3 495.2,45.2 502.05,47.5 508.9,46" fill="none" stroke="#ff0000" stroke-width="1.2" stroke-linejoin="round"/>
<path d="M317.1,147.5V155.5M315.7,147.5h2.8M315.7,155.5h2.8" stroke="#0000ff" stroke-width="1.0" fill="none"/>
<path d="M330.8,137V147M329.4,137h2.8M329.4,147h2.8" stroke="#0000ff" stroke-width="1.0" fill="none"/>
<path d="M344.5,140V147M343.1,140h2.8M343.1,147h2.8" stroke="#0000ff" stroke-width="1.0" fill="none"/>
<path d="M351.35,80.8V99.2M349.95,80.8h2.8M349.95,99.2h2.8" stroke="#0000ff" stroke-width="1.0" fill="none"/>
<path d="M358.2,67.7V80M356.8,67.7h2.8M356.8,80h2.8" stroke="#0000ff" stroke-width="1.0" fill="none"/>
<path d="M365.05,66.2V74.2M363.65,66.2h2.8M363.65,74.2h2.8" stroke="#0000ff" stroke-width="1.0" fill="none"/>
<path d="M371.9,59.2V70.8M370.5,59.2h2.8M370.5,70.8h2.8" stroke="#0000ff" stroke-width="1.0" fill="none"/>
<path d="M378.75,48.5V65.4M377.35,48.5h2.8M377.35,65.4h2.8" stroke="#0000ff" stroke-width="1.0" fill="none"/>
<path d="M385.6,39.7V52.3M384.2,39.7h2.8M384.2,52.3h2.8" stroke="#0000ff" stroke-width="1.0" fill="none"/>
<path d="M392.45,29.5V43.1M391.05,29.5h2.8M391.05,43.1h2.8" stroke="#0000ff" stroke-width="1.0" fill="none"/>
<path d="M399.3,32.3V40M397.9,32.3h2.8M397.9,40h2.8" stroke="#0000ff" stroke-width="1.0" fill="none"/>
<path d="M406.15,35.6V53.75M404.75,35.6h2.8M404.75,53.75h2.8" stroke="#0000ff" stroke-width="1.0" fill="none"/>
<path d="M413,35.25V39M411.6,35.25h2.8M411.6,39h2.8" stroke="#0000ff" stroke-width="1.0" fill="none"/>
<path d="M419.85,36.5V39.4M418.45,36.5h2.8M418.45,39.4h2.8" stroke="#0000ff" stroke-width="1.0" fill="none"/>
<path d="M426.7,37.25V41.25M425.3,37.25h2.8M425.3,41.25h2.8" stroke="#0000ff" stroke-width="1.0" fill="none"/>
<path d="M433.55,41V46.25M432.15,41h2.8M432.15,46.25h2.8" stroke="#0000ff" stroke-width="1.0" fill="none"/>
<path d="M440.4,42.5V48.1M439,42.5h2.8M439,48.1h2.8" stroke="#0000ff" stroke-width="1.0" fill="none"/>
<path d="M447.25,41.25V48.1M445.85,41.25h2.8M445.85,48.1h2.8" stroke="#0000ff" stroke-width="1.0" fill="none"/>
<path d="M454.1,40.6V48.1M452.7,40.6h2.8M452.7,48.1h2.8" stroke="#0000ff" stroke-width="1.0" fill="none"/>
<path d="M460.95,45V52.25M459.55,45h2.8M459.55,52.25h2.8" stroke="#0000ff" stroke-width="1.0" fill="none"/>
<path d="M467.8,45.2V50.4M466.4,45.2h2.8M466.4,50.4h2.8" stroke="#0000ff" stroke-width="1.0" fill="none"/>
<path d="M474.65,45.8V49.5M473.25,45.8h2.8M473.25,49.5h2.8" stroke="#0000ff" stroke-width="1.0" fill="none"/>
<path d="M481.5,44.6V49.5M480.1,44.6h2.8M480.1,49.5h2.8" stroke="#0000ff" stroke-width="1.0" fill="none"/>
<path d="M488.35,43.5V46.9M486.95,43.5h2.8M486.95,46.9h2.8" stroke="#0000ff" stroke-width="1.0" fill="none"/>
<path d="M495.2,45.8V48.6M493.8,45.8h2.8M493.8,48.6h2.8" stroke="#0000ff" stroke-width="1.0" fill="none"/>
<path d="M502.05,46V48.5M500.65,46h2.8M500.65,48.5h2.8" stroke="#0000ff" stroke-width="1.0" fill="none"/>
<path d="M508.9,45.8V49.2M507.5,45.8h2.8M507.5,49.2h2.8" stroke="#0000ff" stroke-width="1.0" fill="none"/>
<path d="M317.1,132V139.5M315.7,132h2.8M315.7,139.5h2.8" stroke="#ff0000" stroke-width="1.0" fill="none"/>
<path d="M330.8,133.75V140M329.4,133.75h2.8M329.4,140h2.8" stroke="#ff0000" stroke-width="1.0" fill="none"/>
<path d="M344.5,132.5V138.75M343.1,132.5h2.8M343.1,138.75h2.8" stroke="#ff0000" stroke-width="1.0" fill="none"/>
<path d="M351.35,69.5V80M349.95,69.5h2.8M349.95,80h2.8" stroke="#ff0000" stroke-width="1.0" fill="none"/>
<path d="M358.2,54.6V69.2M356.8,54.6h2.8M356.8,69.2h2.8" stroke="#ff0000" stroke-width="1.0" fill="none"/>
<path d="M365.05,53.1V63.1M363.65,53.1h2.8M363.65,63.1h2.8" stroke="#ff0000" stroke-width="1.0" fill="none"/>
<path d="M371.9,49.2V55.1M370.5,49.2h2.8M370.5,55.1h2.8" stroke="#ff0000" stroke-width="1.0" fill="none"/>
<path d="M378.75,44.6V50M377.35,44.6h2.8M377.35,50h2.8" stroke="#ff0000" stroke-width="1.0" fill="none"/>
<path d="M385.6,42.3V45.4M384.2,42.3h2.8M384.2,45.4h2.8" stroke="#ff0000" stroke-width="1.0" fill="none"/>
<path d="M392.45,30V39.2M391.05,30h2.8M391.05,39.2h2.8" stroke="#ff0000" stroke-width="1.0" fill="none"/>
<path d="M399.3,34.6V41.5M397.9,34.6h2.8M397.9,41.5h2.8" stroke="#ff0000" stroke-width="1.0" fill="none"/>
<path d="M406.15,34.4V42.5M404.75,34.4h2.8M404.75,42.5h2.8" stroke="#ff0000" stroke-width="1.0" fill="none"/>
<path d="M413,36.9V40M411.6,36.9h2.8M411.6,40h2.8" stroke="#ff0000" stroke-width="1.0" fill="none"/>
<path d="M419.85,40.6V45M418.45,40.6h2.8M418.45,45h2.8" stroke="#ff0000" stroke-width="1.0" fill="none"/>
<path d="M426.7,40.6V44.75M425.3,40.6h2.8M425.3,44.75h2.8" stroke="#ff0000" stroke-width="1.0" fill="none"/>
<path d="M433.55,40.6V43.75M432.15,40.6h2.8M432.15,43.75h2.8" stroke="#ff0000" stroke-width="1.0" fill="none"/>
<path d="M440.4,42.5V46M439,42.5h2.8M439,46h2.8" stroke="#ff0000" stroke-width="1.0" fill="none"/>
<path d="M447.25,40.6V45.6M445.85,40.6h2.8M445.85,45.6h2.8" stroke="#ff0000" stroke-width="1.0" fill="none"/>
<path d="M454.1,44.4V48.1M452.7,44.4h2.8M452.7,48.1h2.8" stroke="#ff0000" stroke-width="1.0" fill="none"/>
<path d="M460.95,44.4V48.75M459.55,44.4h2.8M459.55,48.75h2.8" stroke="#ff0000" stroke-width="1.0" fill="none"/>
<path d="M467.8,44.6V48.1M466.4,44.6h2.8M466.4,48.1h2.8" stroke="#ff0000" stroke-width="1.0" fill="none"/>
<path d="M474.65,47.5V52.1M473.25,47.5h2.8M473.25,52.1h2.8" stroke="#ff0000" stroke-width="1.0" fill="none"/>
<path d="M481.5,44.6V47.5M480.1,44.6h2.8M480.1,47.5h2.8" stroke="#ff0000" stroke-width="1.0" fill="none"/>
<path d="M488.35,44.6V47.5M486.95,44.6h2.8M486.95,47.5h2.8" stroke="#ff0000" stroke-width="1.0" fill="none"/>
<path d="M495.2,44V46.9M493.8,44h2.8M493.8,46.9h2.8" stroke="#ff0000" stroke-width="1.0" fill="none"/>
<path d="M502.05,46.5V48.5M500.65,46.5h2.8M500.65,48.5h2.8" stroke="#ff0000" stroke-width="1.0" fill="none"/>
<path d="M508.9,44.6V47.5M507.5,44.6h2.8M507.5,47.5h2.8" stroke="#ff0000" stroke-width="1.0" fill="none"/>
<circle cx="317.1" cy="151.75" r="1.0" fill="#0000ff"/>
<circle cx="330.8" cy="141.25" r="1.0" fill="#0000ff"/>
<circle cx="344.5" cy="143" r="1.0" fill="#0000ff"/>
<circle cx="351.35" cy="89.2" r="1.0" fill="#0000ff"/>
<circle cx="358.2" cy="73.1" r="1.0" fill="#0000ff"/>
<circle cx="365.05" cy="70" r="1.0" fill="#0000ff"/>
<circle cx="371.9" cy="65.4" r="1.0" fill="#0000ff"/>
<circle cx="378.75" cy="56.9" r="1.0" fill="#0000ff"/>
<circle cx="385.6" cy="46.2" r="1.0" fill="#0000ff"/>
<circle cx="392.45" cy="35.4" r="1.0" fill="#0000ff"/>
<circle cx="399.3" cy="36.6" r="1.0" fill="#0000ff"/>
<circle cx="406.15" cy="44.4" r="1.0" fill="#0000ff"/>
<circle cx="413" cy="37.25" r="1.0" fill="#0000ff"/>
<circle cx="419.85" cy="37.75" r="1.0" fill="#0000ff"/>
<circle cx="426.7" cy="39" r="1.0" fill="#0000ff"/>
<circle cx="433.55" cy="43.1" r="1.0" fill="#0000ff"/>
<circle cx="440.4" cy="45" r="1.0" fill="#0000ff"/>
<circle cx="447.25" cy="43.75" r="1.0" fill="#0000ff"/>
<circle cx="454.1" cy="44.4" r="1.0" fill="#0000ff"/>
<circle cx="460.95" cy="48.1" r="1.0" fill="#0000ff"/>
<circle cx="467.8" cy="47.5" r="1.0" fill="#0000ff"/>
<circle cx="474.65" cy="47.5" r="1.0" fill="#0000ff"/>
<circle cx="481.5" cy="46.9" r="1.0" fill="#0000ff"/>
<circle cx="488.35" cy="45.2" r="1.0" fill="#0000ff"/>
<circle cx="495.2" cy="46.9" r="1.0" fill="#0000ff"/>
<circle cx="502.05" cy="47.1" r="1.0" fill="#0000ff"/>
<circle cx="508.9" cy="47.5" r="1.0" fill="#0000ff"/>
<circle cx="317.1" cy="135.75" r="1.0" fill="#ff0000"/>
<circle cx="330.8" cy="136.75" r="1.0" fill="#ff0000"/>
<circle cx="344.5" cy="135.75" r="1.0" fill="#ff0000"/>
<circle cx="351.35" cy="73.1" r="1.0" fill="#ff0000"/>
<circle cx="358.2" cy="61.5" r="1.0" fill="#ff0000"/>
<circle cx="365.05" cy="58.5" r="1.0" fill="#ff0000"/>
<circle cx="371.9" cy="52.3" r="1.0" fill="#ff0000"/>
<circle cx="378.75" cy="47.4" r="1.0" fill="#ff0000"/>
<circle cx="385.6" cy="43.8" r="1.0" fill="#ff0000"/>
<circle cx="392.45" cy="34.6" r="1.0" fill="#ff0000"/>
<circle cx="399.3" cy="36.9" r="1.0" fill="#ff0000"/>
<circle cx="406.15" cy="38.1" r="1.0" fill="#ff0000"/>
<circle cx="413" cy="38.5" r="1.0" fill="#ff0000"/>
<circle cx="419.85" cy="42.5" r="1.0" fill="#ff0000"/>
<circle cx="426.7" cy="42.5" r="1.0" fill="#ff0000"/>
<circle cx="433.55" cy="41.9" r="1.0" fill="#ff0000"/>
<circle cx="440.4" cy="44.4" r="1.0" fill="#ff0000"/>
<circle cx="447.25" cy="43.1" r="1.0" fill="#ff0000"/>
<circle cx="454.1" cy="46.25" r="1.0" fill="#ff0000"/>
<circle cx="460.95" cy="46.5" r="1.0" fill="#ff0000"/>
<circle cx="467.8" cy="45.8" r="1.0" fill="#ff0000"/>
<circle cx="474.65" cy="49.2" r="1.0" fill="#ff0000"/>
<circle cx="481.5" cy="46" r="1.0" fill="#ff0000"/>
<circle cx="488.35" cy="46.3" r="1.0" fill="#ff0000"/>
<circle cx="495.2" cy="45.2" r="1.0" fill="#ff0000"/>
<circle cx="502.05" cy="47.5" r="1.0" fill="#ff0000"/>
<circle cx="508.9" cy="46" r="1.0" fill="#ff0000"/>
<rect x="39.5" y="213.75" width="211.1" height="141.55" fill="none" stroke="#c4c4c4" stroke-width="1"/>
<rect x="50" y="213.15" width="1" height="1.2" fill="#fff"/>
<rect x="50" y="354.7" width="1" height="1.2" fill="#fff"/>
<rect x="63.53" y="213.15" width="1" height="1.2" fill="#fff"/>
<rect x="63.53" y="354.7" width="1" height="1.2" fill="#fff"/>
<rect x="77.07" y="213.15" width="1" height="1.2" fill="#fff"/>
<rect x="77.07" y="354.7" width="1" height="1.2" fill="#fff"/>
<rect x="90.61" y="213.15" width="1" height="1.2" fill="#fff"/>
<rect x="90.61" y="354.7" width="1" height="1.2" fill="#fff"/>
<rect x="104.14" y="213.15" width="1" height="1.2" fill="#fff"/>
<rect x="104.14" y="354.7" width="1" height="1.2" fill="#fff"/>
<rect x="117.68" y="213.15" width="1" height="1.2" fill="#fff"/>
<rect x="117.68" y="354.7" width="1" height="1.2" fill="#fff"/>
<rect x="131.21" y="213.15" width="1" height="1.2" fill="#fff"/>
<rect x="131.21" y="354.7" width="1" height="1.2" fill="#fff"/>
<rect x="144.75" y="213.15" width="1" height="1.2" fill="#fff"/>
<rect x="144.75" y="354.7" width="1" height="1.2" fill="#fff"/>
<rect x="158.29" y="213.15" width="1" height="1.2" fill="#fff"/>
<rect x="158.29" y="354.7" width="1" height="1.2" fill="#fff"/>
<rect x="171.82" y="213.15" width="1" height="1.2" fill="#fff"/>
<rect x="171.82" y="354.7" width="1" height="1.2" fill="#fff"/>
<rect x="185.36" y="213.15" width="1" height="1.2" fill="#fff"/>
<rect x="185.36" y="354.7" width="1" height="1.2" fill="#fff"/>
<rect x="198.89" y="213.15" width="1" height="1.2" fill="#fff"/>
<rect x="198.89" y="354.7" width="1" height="1.2" fill="#fff"/>
<rect x="212.43" y="213.15" width="1" height="1.2" fill="#fff"/>
<rect x="212.43" y="354.7" width="1" height="1.2" fill="#fff"/>
<rect x="225.97" y="213.15" width="1" height="1.2" fill="#fff"/>
<rect x="225.97" y="354.7" width="1" height="1.2" fill="#fff"/>
<rect x="239.5" y="213.15" width="1" height="1.2" fill="#fff"/>
<rect x="239.5" y="354.7" width="1" height="1.2" fill="#fff"/>
<rect x="38.9" y="348.9" width="1.2" height="1" fill="#fff"/>
<rect x="250" y="348.9" width="1.2" height="1" fill="#fff"/>
<rect x="38.9" y="328.9" width="1.2" height="1" fill="#fff"/>
<rect x="250" y="328.9" width="1.2" height="1" fill="#fff"/>
<rect x="38.9" y="308.9" width="1.2" height="1" fill="#fff"/>
<rect x="250" y="308.9" width="1.2" height="1" fill="#fff"/>
<rect x="38.9" y="288.9" width="1.2" height="1" fill="#fff"/>
<rect x="250" y="288.9" width="1.2" height="1" fill="#fff"/>
<rect x="38.9" y="268.9" width="1.2" height="1" fill="#fff"/>
<rect x="250" y="268.9" width="1.2" height="1" fill="#fff"/>
<rect x="38.9" y="248.9" width="1.2" height="1" fill="#fff"/>
<rect x="250" y="248.9" width="1.2" height="1" fill="#fff"/>
<rect x="38.9" y="228.9" width="1.2" height="1" fill="#fff"/>
<rect x="250" y="228.9" width="1.2" height="1" fill="#fff"/>
<line x1="50.5" y1="355.3" x2="50.5" y2="358.1" stroke="#333333" stroke-width="1"/>
<text x="50.5" y="366.5" font-size="8.3" fill="#4d4d4d" text-anchor="middle">−20</text>
<line x1="77.57" y1="355.3" x2="77.57" y2="358.1" stroke="#333333" stroke-width="1"/>
<text x="77.57" y="366.5" font-size="8.3" fill="#4d4d4d" text-anchor="middle">0</text>
<line x1="104.64" y1="355.3" x2="104.64" y2="358.1" stroke="#333333" stroke-width="1"/>
<text x="104.64" y="366.5" font-size="8.3" fill="#4d4d4d" text-anchor="middle">20</text>
<line x1="131.71" y1="355.3" x2="131.71" y2="358.1" stroke="#333333" stroke-width="1"/>
<text x="131.71" y="366.5" font-size="8.3" fill="#4d4d4d" text-anchor="middle">40</text>
<line x1="158.79" y1="355.3" x2="158.79" y2="358.1" stroke="#333333" stroke-width="1"/>
<text x="158.79" y="366.5" font-size="8.3" fill="#4d4d4d" text-anchor="middle">60</text>
<line x1="185.86" y1="355.3" x2="185.86" y2="358.1" stroke="#333333" stroke-width="1"/>
<text x="185.86" y="366.5" font-size="8.3" fill="#4d4d4d" text-anchor="middle">80</text>
<line x1="212.93" y1="355.3" x2="212.93" y2="358.1" stroke="#333333" stroke-width="1"/>
<text x="212.93" y="366.5" font-size="8.3" fill="#4d4d4d" text-anchor="middle">100</text>
<line x1="240" y1="355.3" x2="240" y2="358.1" stroke="#333333" stroke-width="1"/>
<text x="240" y="366.5" font-size="8.3" fill="#4d4d4d" text-anchor="middle">120</text>
<line x1="36.7" y1="349.4" x2="39.5" y2="349.4" stroke="#333333" stroke-width="1"/>
<text x="35.2" y="352.4" font-size="8.3" fill="#4d4d4d" text-anchor="end">0</text>
<line x1="36.7" y1="309.4" x2="39.5" y2="309.4" stroke="#333333" stroke-width="1"/>
<text x="35.2" y="312.4" font-size="8.3" fill="#4d4d4d" text-anchor="end">200</text>
<line x1="36.7" y1="269.4" x2="39.5" y2="269.4" stroke="#333333" stroke-width="1"/>
<text x="35.2" y="272.4" font-size="8.3" fill="#4d4d4d" text-anchor="end">400</text>
<line x1="36.7" y1="229.4" x2="39.5" y2="229.4" stroke="#333333" stroke-width="1"/>
<text x="35.2" y="232.4" font-size="8.3" fill="#4d4d4d" text-anchor="end">600</text>
<text x="0" y="211.5" font-size="18" font-weight="bold" fill="#000">B</text>
<text x="40" y="206" font-size="11.3" fill="#000">GCK−MODY</text>
<text transform="translate(9.8,284.4) rotate(-90)" font-size="10" fill="#000" text-anchor="middle">Insulin concentration (pmol/L)</text>
<text x="145.05" y="379.3" font-size="10" fill="#000" text-anchor="middle">Time (min)</text>
<line x1="52" y1="236.3" x2="65" y2="236.3" stroke="#0000ff" stroke-width="1.2"/>
<circle cx="58.5" cy="236.3" r="1.1" fill="#0000ff"/>
<text x="71" y="239.3" font-size="8.3" fill="#000" textLength="43.2" lengthAdjust="spacingAndGlyphs">Dorzagliatin</text>
<line x1="52" y1="252" x2="65" y2="252" stroke="#ff0000" stroke-width="1.2"/>
<circle cx="58.5" cy="252" r="1.1" fill="#ff0000"/>
<text x="71" y="255" font-size="8.3" fill="#000" textLength="29.5" lengthAdjust="spacingAndGlyphs">Placebo</text>
<polyline points="50.5,336.6 64.03,337.7 77.57,335.1 80.28,321.5 82.98,274.6 85.69,282.2 88.4,292 91.11,302 104.64,301.8 131.71,293 185.86,257 212.93,258 240,246.75" fill="none" stroke="#0000ff" stroke-width="1.2" stroke-linejoin="round"/>
<polyline points="50.5,340.3 64.03,340.3 77.57,340.3 80.28,332.3 82.98,289.5 85.69,279.2 88.4,313 91.11,317 104.64,322.8 131.71,317.5 185.86,313 212.93,309.5 240,305.5" fill="none" stroke="#ff0000" stroke-width="1.2" stroke-linejoin="round"/>
<path d="M50.5,334.6V338.8M49.1,334.6h2.8M49.1,338.8h2.8" stroke="#0000ff" stroke-width="1.0" fill="none"/>
<path d="M64.03,336V339.5M62.63,336h2.8M62.63,339.5h2.8" stroke="#0000ff" stroke-width="1.0" fill="none"/>
<path d="M77.57,333V337M76.17,333h2.8M76.17,337h2.8" stroke="#0000ff" stroke-width="1.0" fill="none"/>
<path d="M80.28,316.6V326.2M78.88,316.6h2.8M78.88,326.2h2.8" stroke="#0000ff" stroke-width="1.0" fill="none"/>
<path d="M82.98,269.5V280.3M81.58,269.5h2.8M81.58,280.3h2.8" stroke="#0000ff" stroke-width="1.0" fill="none"/>
<path d="M85.69,273.3V291M84.29,273.3h2.8M84.29,291h2.8" stroke="#0000ff" stroke-width="1.0" fill="none"/>
<path d="M88.4,287V300M87,287h2.8M87,300h2.8" stroke="#0000ff" stroke-width="1.0" fill="none"/>
<path d="M91.11,294.6V309.6M89.71,294.6h2.8M89.71,309.6h2.8" stroke="#0000ff" stroke-width="1.0" fill="none"/>
<path d="M104.64,294.2V309.2M103.24,294.2h2.8M103.24,309.2h2.8" stroke="#0000ff" stroke-width="1.0" fill="none"/>
<path d="M131.71,281.25V304.25M130.31,281.25h2.8M130.31,304.25h2.8" stroke="#0000ff" stroke-width="1.0" fill="none"/>
<path d="M185.86,236V278.25M184.46,236h2.8M184.46,278.25h2.8" stroke="#0000ff" stroke-width="1.0" fill="none"/>
<path d="M212.93,239.5V276.25M211.53,239.5h2.8M211.53,276.25h2.8" stroke="#0000ff" stroke-width="1.0" fill="none"/>
<path d="M240,225.5V268M238.6,225.5h2.8M238.6,268h2.8" stroke="#0000ff" stroke-width="1.0" fill="none"/>
<path d="M50.5,338.5V342M49.1,338.5h2.8M49.1,342h2.8" stroke="#ff0000" stroke-width="1.0" fill="none"/>
<path d="M64.03,338.5V342M62.63,338.5h2.8M62.63,342h2.8" stroke="#ff0000" stroke-width="1.0" fill="none"/>
<path d="M77.57,338.5V342M76.17,338.5h2.8M76.17,342h2.8" stroke="#ff0000" stroke-width="1.0" fill="none"/>
<path d="M80.28,327.7V335.4M78.88,327.7h2.8M78.88,335.4h2.8" stroke="#ff0000" stroke-width="1.0" fill="none"/>
<path d="M82.98,275.2V303.2M81.58,275.2h2.8M81.58,303.2h2.8" stroke="#ff0000" stroke-width="1.0" fill="none"/>
<path d="M85.69,274V306M84.29,274h2.8M84.29,306h2.8" stroke="#ff0000" stroke-width="1.0" fill="none"/>
<path d="M88.4,303V322M87,303h2.8M87,322h2.8" stroke="#ff0000" stroke-width="1.0" fill="none"/>
<path d="M91.11,309.2V324.6M89.71,309.2h2.8M89.71,324.6h2.8" stroke="#ff0000" stroke-width="1.0" fill="none"/>
<path d="M104.64,317.7V328.5M103.24,317.7h2.8M103.24,328.5h2.8" stroke="#ff0000" stroke-width="1.0" fill="none"/>
<path d="M131.71,312.5V323.75M130.31,312.5h2.8M130.31,323.75h2.8" stroke="#ff0000" stroke-width="1.0" fill="none"/>
<path d="M185.86,306.25V320M184.46,306.25h2.8M184.46,320h2.8" stroke="#ff0000" stroke-width="1.0" fill="none"/>
<path d="M212.93,300.75V318M211.53,300.75h2.8M211.53,318h2.8" stroke="#ff0000" stroke-width="1.0" fill="none"/>
<path d="M240,296.25V314.25M238.6,296.25h2.8M238.6,314.25h2.8" stroke="#ff0000" stroke-width="1.0" fill="none"/>
<circle cx="50.5" cy="336.6" r="1.0" fill="#0000ff"/>
<circle cx="64.03" cy="337.7" r="1.0" fill="#0000ff"/>
<circle cx="77.57" cy="335.1" r="1.0" fill="#0000ff"/>
<circle cx="80.28" cy="321.5" r="1.0" fill="#0000ff"/>
<circle cx="82.98" cy="274.6" r="1.0" fill="#0000ff"/>
<circle cx="85.69" cy="282.2" r="1.0" fill="#0000ff"/>
<circle cx="88.4" cy="292" r="1.0" fill="#0000ff"/>
<circle cx="91.11" cy="302" r="1.0" fill="#0000ff"/>
<circle cx="104.64" cy="301.8" r="1.0" fill="#0000ff"/>
<circle cx="131.71" cy="293" r="1.0" fill="#0000ff"/>
<circle cx="185.86" cy="257" r="1.0" fill="#0000ff"/>
<circle cx="212.93" cy="258" r="1.0" fill="#0000ff"/>
<circle cx="240" cy="246.75" r="1.0" fill="#0000ff"/>
<circle cx="50.5" cy="340.3" r="1.0" fill="#ff0000"/>
<circle cx="64.03" cy="340.3" r="1.0" fill="#ff0000"/>
<circle cx="77.57" cy="340.3" r="1.0" fill="#ff0000"/>
<circle cx="80.28" cy="332.3" r="1.0" fill="#ff0000"/>
<circle cx="82.98" cy="289.5" r="1.0" fill="#ff0000"/>
<circle cx="85.69" cy="279.2" r="1.0" fill="#ff0000"/>
<circle cx="88.4" cy="313" r="1.0" fill="#ff0000"/>
<circle cx="91.11" cy="317" r="1.0" fill="#ff0000"/>
<circle cx="104.64" cy="322.8" r="1.0" fill="#ff0000"/>
<circle cx="131.71" cy="317.5" r="1.0" fill="#ff0000"/>
<circle cx="185.86" cy="313" r="1.0" fill="#ff0000"/>
<circle cx="212.93" cy="309.5" r="1.0" fill="#ff0000"/>
<circle cx="240" cy="305.5" r="1.0" fill="#ff0000"/>
<rect x="308.25" y="213.75" width="210.5" height="141.65" fill="none" stroke="#c4c4c4" stroke-width="1"/>
<rect x="318.5" y="213.15" width="1" height="1.2" fill="#fff"/>
<rect x="318.5" y="354.8" width="1" height="1.2" fill="#fff"/>
<rect x="332.07" y="213.15" width="1" height="1.2" fill="#fff"/>
<rect x="332.07" y="354.8" width="1" height="1.2" fill="#fff"/>
<rect x="345.65" y="213.15" width="1" height="1.2" fill="#fff"/>
<rect x="345.65" y="354.8" width="1" height="1.2" fill="#fff"/>
<rect x="359.22" y="213.15" width="1" height="1.2" fill="#fff"/>
<rect x="359.22" y="354.8" width="1" height="1.2" fill="#fff"/>
<rect x="372.8" y="213.15" width="1" height="1.2" fill="#fff"/>
<rect x="372.8" y="354.8" width="1" height="1.2" fill="#fff"/>
<rect x="386.38" y="213.15" width="1" height="1.2" fill="#fff"/>
<rect x="386.38" y="354.8" width="1" height="1.2" fill="#fff"/>
<rect x="399.95" y="213.15" width="1" height="1.2" fill="#fff"/>
<rect x="399.95" y="354.8" width="1" height="1.2" fill="#fff"/>
<rect x="413.52" y="213.15" width="1" height="1.2" fill="#fff"/>
<rect x="413.52" y="354.8" width="1" height="1.2" fill="#fff"/>
<rect x="427.1" y="213.15" width="1" height="1.2" fill="#fff"/>
<rect x="427.1" y="354.8" width="1" height="1.2" fill="#fff"/>
<rect x="440.67" y="213.15" width="1" height="1.2" fill="#fff"/>
<rect x="440.67" y="354.8" width="1" height="1.2" fill="#fff"/>
<rect x="454.25" y="213.15" width="1" height="1.2" fill="#fff"/>
<rect x="454.25" y="354.8" width="1" height="1.2" fill="#fff"/>
<rect x="467.82" y="213.15" width="1" height="1.2" fill="#fff"/>
<rect x="467.82" y="354.8" width="1" height="1.2" fill="#fff"/>
<rect x="481.4" y="213.15" width="1" height="1.2" fill="#fff"/>
<rect x="481.4" y="354.8" width="1" height="1.2" fill="#fff"/>
<rect x="494.97" y="213.15" width="1" height="1.2" fill="#fff"/>
<rect x="494.97" y="354.8" width="1" height="1.2" fill="#fff"/>
<rect x="508.55" y="213.15" width="1" height="1.2" fill="#fff"/>
<rect x="508.55" y="354.8" width="1" height="1.2" fill="#fff"/>
<rect x="307.65" y="348.7" width="1.2" height="1" fill="#fff"/>
<rect x="518.15" y="348.7" width="1.2" height="1" fill="#fff"/>
<rect x="307.65" y="328.7" width="1.2" height="1" fill="#fff"/>
<rect x="518.15" y="328.7" width="1.2" height="1" fill="#fff"/>
<rect x="307.65" y="308.7" width="1.2" height="1" fill="#fff"/>
<rect x="518.15" y="308.7" width="1.2" height="1" fill="#fff"/>
<rect x="307.65" y="288.7" width="1.2" height="1" fill="#fff"/>
<rect x="518.15" y="288.7" width="1.2" height="1" fill="#fff"/>
<rect x="307.65" y="268.7" width="1.2" height="1" fill="#fff"/>
<rect x="518.15" y="268.7" width="1.2" height="1" fill="#fff"/>
<rect x="307.65" y="248.7" width="1.2" height="1" fill="#fff"/>
<rect x="518.15" y="248.7" width="1.2" height="1" fill="#fff"/>
<rect x="307.65" y="228.7" width="1.2" height="1" fill="#fff"/>
<rect x="518.15" y="228.7" width="1.2" height="1" fill="#fff"/>
<line x1="319" y1="355.4" x2="319" y2="358.2" stroke="#333333" stroke-width="1"/>
<text x="319" y="366.6" font-size="8.3" fill="#4d4d4d" text-anchor="middle">−20</text>
<line x1="346.15" y1="355.4" x2="346.15" y2="358.2" stroke="#333333" stroke-width="1"/>
<text x="346.15" y="366.6" font-size="8.3" fill="#4d4d4d" text-anchor="middle">0</text>
<line x1="373.3" y1="355.4" x2="373.3" y2="358.2" stroke="#333333" stroke-width="1"/>
<text x="373.3" y="366.6" font-size="8.3" fill="#4d4d4d" text-anchor="middle">20</text>
<line x1="400.45" y1="355.4" x2="400.45" y2="358.2" stroke="#333333" stroke-width="1"/>
<text x="400.45" y="366.6" font-size="8.3" fill="#4d4d4d" text-anchor="middle">40</text>
<line x1="427.6" y1="355.4" x2="427.6" y2="358.2" stroke="#333333" stroke-width="1"/>
<text x="427.6" y="366.6" font-size="8.3" fill="#4d4d4d" text-anchor="middle">60</text>
<line x1="454.75" y1="355.4" x2="454.75" y2="358.2" stroke="#333333" stroke-width="1"/>
<text x="454.75" y="366.6" font-size="8.3" fill="#4d4d4d" text-anchor="middle">80</text>
<line x1="481.9" y1="355.4" x2="481.9" y2="358.2" stroke="#333333" stroke-width="1"/>
<text x="481.9" y="366.6" font-size="8.3" fill="#4d4d4d" text-anchor="middle">100</text>
<line x1="509.05" y1="355.4" x2="509.05" y2="358.2" stroke="#333333" stroke-width="1"/>
<text x="509.05" y="366.6" font-size="8.3" fill="#4d4d4d" text-anchor="middle">120</text>
<line x1="305.45" y1="349.2" x2="308.25" y2="349.2" stroke="#333333" stroke-width="1"/>
<text x="303.95" y="352.2" font-size="8.3" fill="#4d4d4d" text-anchor="end">0</text>
<line x1="305.45" y1="309.2" x2="308.25" y2="309.2" stroke="#333333" stroke-width="1"/>
<text x="303.95" y="312.2" font-size="8.3" fill="#4d4d4d" text-anchor="end">200</text>
<line x1="305.45" y1="269.2" x2="308.25" y2="269.2" stroke="#333333" stroke-width="1"/>
<text x="303.95" y="272.2" font-size="8.3" fill="#4d4d4d" text-anchor="end">400</text>
<line x1="305.45" y1="229.2" x2="308.25" y2="229.2" stroke="#333333" stroke-width="1"/>
<text x="303.95" y="232.2" font-size="8.3" fill="#4d4d4d" text-anchor="end">600</text>
<text x="275.2" y="211.7" font-size="18" font-weight="bold" fill="#000">F</text>
<text x="308" y="206" font-size="11.3" fill="#000">T2D</text>
<text transform="translate(285.6,284.4) rotate(-90)" font-size="10" fill="#000" text-anchor="middle">Insulin concentration (pmol/L)</text>
<text x="413.5" y="379.3" font-size="10" fill="#000" text-anchor="middle">Time (min)</text>
<line x1="320" y1="236" x2="333" y2="236" stroke="#0000ff" stroke-width="1.2"/>
<circle cx="326.5" cy="236" r="1.1" fill="#0000ff"/>
<text x="339.5" y="239" font-size="8.3" fill="#000" textLength="43.2" lengthAdjust="spacingAndGlyphs">Dorzagliatin</text>
<line x1="320" y1="251.75" x2="333" y2="251.75" stroke="#ff0000" stroke-width="1.2"/>
<circle cx="326.5" cy="251.75" r="1.1" fill="#ff0000"/>
<text x="339.5" y="254.75" font-size="8.3" fill="#000" textLength="29.5" lengthAdjust="spacingAndGlyphs">Placebo</text>
<polyline points="319,334.2 332.57,333.3 346.15,333.5 348.86,329.7 351.58,330.9 354.29,333.5 357.01,335.2 359.72,335.2 373.3,324.2 400.45,313.75 454.75,298.75 481.9,296.25 509.05,294.5" fill="none" stroke="#0000ff" stroke-width="1.2" stroke-linejoin="round"/>
<polyline points="319,337.7 332.57,340.4 346.15,337.8 348.86,332.3 351.58,330.1 354.29,330.9 357.01,331.7 359.72,332.9 373.3,329.4 400.45,324.5 454.75,314.5 481.9,310 509.05,305" fill="none" stroke="#ff0000" stroke-width="1.2" stroke-linejoin="round"/>
<path d="M319,331.3V337.1M317.6,331.3h2.8M317.6,337.1h2.8" stroke="#0000ff" stroke-width="1.0" fill="none"/>
<path d="M332.57,330.4V335.8M331.18,330.4h2.8M331.18,335.8h2.8" stroke="#0000ff" stroke-width="1.0" fill="none"/>
<path d="M346.15,332V335.5M344.75,332h2.8M344.75,335.5h2.8" stroke="#0000ff" stroke-width="1.0" fill="none"/>
<path d="M348.86,328.5V331.5M347.46,328.5h2.8M347.46,331.5h2.8" stroke="#0000ff" stroke-width="1.0" fill="none"/>
<path d="M351.58,329.3V332.5M350.18,329.3h2.8M350.18,332.5h2.8" stroke="#0000ff" stroke-width="1.0" fill="none"/>
<path d="M354.29,331.8V335.2M352.89,331.8h2.8M352.89,335.2h2.8" stroke="#0000ff" stroke-width="1.0" fill="none"/>
<path d="M357.01,333.5V337M355.61,333.5h2.8M355.61,337h2.8" stroke="#0000ff" stroke-width="1.0" fill="none"/>
<path d="M359.72,334V337.5M358.32,334h2.8M358.32,337.5h2.8" stroke="#0000ff" stroke-width="1.0" fill="none"/>
<path d="M373.3,318.8V329.4M371.9,318.8h2.8M371.9,329.4h2.8" stroke="#0000ff" stroke-width="1.0" fill="none"/>
<path d="M400.45,305V323M399.05,305h2.8M399.05,323h2.8" stroke="#0000ff" stroke-width="1.0" fill="none"/>
<path d="M454.75,286.25V311.25M453.35,286.25h2.8M453.35,311.25h2.8" stroke="#0000ff" stroke-width="1.0" fill="none"/>
<path d="M481.9,283V308.75M480.5,283h2.8M480.5,308.75h2.8" stroke="#0000ff" stroke-width="1.0" fill="none"/>
<path d="M509.05,284.25V303.75M507.65,284.25h2.8M507.65,303.75h2.8" stroke="#0000ff" stroke-width="1.0" fill="none"/>
<path d="M319,336.2V339M317.6,336.2h2.8M317.6,339h2.8" stroke="#ff0000" stroke-width="1.0" fill="none"/>
<path d="M332.57,338.5V342M331.18,338.5h2.8M331.18,342h2.8" stroke="#ff0000" stroke-width="1.0" fill="none"/>
<path d="M346.15,336.3V339.5M344.75,336.3h2.8M344.75,339.5h2.8" stroke="#ff0000" stroke-width="1.0" fill="none"/>
<path d="M348.86,330.5V334M347.46,330.5h2.8M347.46,334h2.8" stroke="#ff0000" stroke-width="1.0" fill="none"/>
<path d="M351.58,328.5V331.8M350.18,328.5h2.8M350.18,331.8h2.8" stroke="#ff0000" stroke-width="1.0" fill="none"/>
<path d="M354.29,329.3V332.5M352.89,329.3h2.8M352.89,332.5h2.8" stroke="#ff0000" stroke-width="1.0" fill="none"/>
<path d="M357.01,330V333.4M355.61,330h2.8M355.61,333.4h2.8" stroke="#ff0000" stroke-width="1.0" fill="none"/>
<path d="M359.72,331.2V334.6M358.32,331.2h2.8M358.32,334.6h2.8" stroke="#ff0000" stroke-width="1.0" fill="none"/>
<path d="M373.3,324.2V333.8M371.9,324.2h2.8M371.9,333.8h2.8" stroke="#ff0000" stroke-width="1.0" fill="none"/>
<path d="M400.45,318.75V330.5M399.05,318.75h2.8M399.05,330.5h2.8" stroke="#ff0000" stroke-width="1.0" fill="none"/>
<path d="M454.75,308.25V320M453.35,308.25h2.8M453.35,320h2.8" stroke="#ff0000" stroke-width="1.0" fill="none"/>
<path d="M481.9,302.5V317M480.5,302.5h2.8M480.5,317h2.8" stroke="#ff0000" stroke-width="1.0" fill="none"/>
<path d="M509.05,297V313M507.65,297h2.8M507.65,313h2.8" stroke="#ff0000" stroke-width="1.0" fill="none"/>
<circle cx="319" cy="334.2" r="1.0" fill="#0000ff"/>
<circle cx="332.57" cy="333.3" r="1.0" fill="#0000ff"/>
<circle cx="346.15" cy="333.5" r="1.0" fill="#0000ff"/>
<circle cx="348.86" cy="329.7" r="1.0" fill="#0000ff"/>
<circle cx="351.58" cy="330.9" r="1.0" fill="#0000ff"/>
<circle cx="354.29" cy="333.5" r="1.0" fill="#0000ff"/>
<circle cx="357.01" cy="335.2" r="1.0" fill="#0000ff"/>
<circle cx="359.72" cy="335.2" r="1.0" fill="#0000ff"/>
<circle cx="373.3" cy="324.2" r="1.0" fill="#0000ff"/>
<circle cx="400.45" cy="313.75" r="1.0" fill="#0000ff"/>
<circle cx="454.75" cy="298.75" r="1.0" fill="#0000ff"/>
<circle cx="481.9" cy="296.25" r="1.0" fill="#0000ff"/>
<circle cx="509.05" cy="294.5" r="1.0" fill="#0000ff"/>
<circle cx="319" cy="337.7" r="1.0" fill="#ff0000"/>
<circle cx="332.57" cy="340.4" r="1.0" fill="#ff0000"/>
<circle cx="346.15" cy="337.8" r="1.0" fill="#ff0000"/>
<circle cx="348.86" cy="332.3" r="1.0" fill="#ff0000"/>
<circle cx="351.58" cy="330.1" r="1.0" fill="#ff0000"/>
<circle cx="354.29" cy="330.9" r="1.0" fill="#ff0000"/>
<circle cx="357.01" cy="331.7" r="1.0" fill="#ff0000"/>
<circle cx="359.72" cy="332.9" r="1.0" fill="#ff0000"/>
<circle cx="373.3" cy="329.4" r="1.0" fill="#ff0000"/>
<circle cx="400.45" cy="324.5" r="1.0" fill="#ff0000"/>
<circle cx="454.75" cy="314.5" r="1.0" fill="#ff0000"/>
<circle cx="481.9" cy="310" r="1.0" fill="#ff0000"/>
<circle cx="509.05" cy="305" r="1.0" fill="#ff0000"/>
<rect x="39.5" y="413" width="206.3" height="142" fill="none" stroke="#c4c4c4" stroke-width="1"/>
<rect x="49.98" y="412.4" width="1" height="1.2" fill="#fff"/>
<rect x="49.98" y="554.4" width="1" height="1.2" fill="#fff"/>
<rect x="63.26" y="412.4" width="1" height="1.2" fill="#fff"/>
<rect x="63.26" y="554.4" width="1" height="1.2" fill="#fff"/>
<rect x="76.55" y="412.4" width="1" height="1.2" fill="#fff"/>
<rect x="76.55" y="554.4" width="1" height="1.2" fill="#fff"/>
<rect x="89.84" y="412.4" width="1" height="1.2" fill="#fff"/>
<rect x="89.84" y="554.4" width="1" height="1.2" fill="#fff"/>
<rect x="103.12" y="412.4" width="1" height="1.2" fill="#fff"/>
<rect x="103.12" y="554.4" width="1" height="1.2" fill="#fff"/>
<rect x="116.41" y="412.4" width="1" height="1.2" fill="#fff"/>
<rect x="116.41" y="554.4" width="1" height="1.2" fill="#fff"/>
<rect x="129.69" y="412.4" width="1" height="1.2" fill="#fff"/>
<rect x="129.69" y="554.4" width="1" height="1.2" fill="#fff"/>
<rect x="142.98" y="412.4" width="1" height="1.2" fill="#fff"/>
<rect x="142.98" y="554.4" width="1" height="1.2" fill="#fff"/>
<rect x="156.27" y="412.4" width="1" height="1.2" fill="#fff"/>
<rect x="156.27" y="554.4" width="1" height="1.2" fill="#fff"/>
<rect x="169.55" y="412.4" width="1" height="1.2" fill="#fff"/>
<rect x="169.55" y="554.4" width="1" height="1.2" fill="#fff"/>
<rect x="182.84" y="412.4" width="1" height="1.2" fill="#fff"/>
<rect x="182.84" y="554.4" width="1" height="1.2" fill="#fff"/>
<rect x="196.12" y="412.4" width="1" height="1.2" fill="#fff"/>
<rect x="196.12" y="554.4" width="1" height="1.2" fill="#fff"/>
<rect x="209.41" y="412.4" width="1" height="1.2" fill="#fff"/>
<rect x="209.41" y="554.4" width="1" height="1.2" fill="#fff"/>
<rect x="222.7" y="412.4" width="1" height="1.2" fill="#fff"/>
<rect x="222.7" y="554.4" width="1" height="1.2" fill="#fff"/>
<rect x="235.98" y="412.4" width="1" height="1.2" fill="#fff"/>
<rect x="235.98" y="554.4" width="1" height="1.2" fill="#fff"/>
<rect x="38.9" y="548.5" width="1.2" height="1" fill="#fff"/>
<rect x="245.2" y="548.5" width="1.2" height="1" fill="#fff"/>
<rect x="38.9" y="538.5" width="1.2" height="1" fill="#fff"/>
<rect x="245.2" y="538.5" width="1.2" height="1" fill="#fff"/>
<rect x="38.9" y="528.5" width="1.2" height="1" fill="#fff"/>
<rect x="245.2" y="528.5" width="1.2" height="1" fill="#fff"/>
<rect x="38.9" y="518.5" width="1.2" height="1" fill="#fff"/>
<rect x="245.2" y="518.5" width="1.2" height="1" fill="#fff"/>
<rect x="38.9" y="508.5" width="1.2" height="1" fill="#fff"/>
<rect x="245.2" y="508.5" width="1.2" height="1" fill="#fff"/>
<rect x="38.9" y="498.5" width="1.2" height="1" fill="#fff"/>
<rect x="245.2" y="498.5" width="1.2" height="1" fill="#fff"/>
<rect x="38.9" y="488.5" width="1.2" height="1" fill="#fff"/>
<rect x="245.2" y="488.5" width="1.2" height="1" fill="#fff"/>
<rect x="38.9" y="478.5" width="1.2" height="1" fill="#fff"/>
<rect x="245.2" y="478.5" width="1.2" height="1" fill="#fff"/>
<rect x="38.9" y="468.5" width="1.2" height="1" fill="#fff"/>
<rect x="245.2" y="468.5" width="1.2" height="1" fill="#fff"/>
<rect x="38.9" y="458.5" width="1.2" height="1" fill="#fff"/>
<rect x="245.2" y="458.5" width="1.2" height="1" fill="#fff"/>
<rect x="38.9" y="448.5" width="1.2" height="1" fill="#fff"/>
<rect x="245.2" y="448.5" width="1.2" height="1" fill="#fff"/>
<rect x="38.9" y="438.5" width="1.2" height="1" fill="#fff"/>
<rect x="245.2" y="438.5" width="1.2" height="1" fill="#fff"/>
<rect x="38.9" y="428.5" width="1.2" height="1" fill="#fff"/>
<rect x="245.2" y="428.5" width="1.2" height="1" fill="#fff"/>
<rect x="38.9" y="418.5" width="1.2" height="1" fill="#fff"/>
<rect x="245.2" y="418.5" width="1.2" height="1" fill="#fff"/>
<line x1="50.48" y1="555" x2="50.48" y2="557.8" stroke="#333333" stroke-width="1"/>
<text x="50.48" y="566.2" font-size="8.3" fill="#4d4d4d" text-anchor="middle">−20</text>
<line x1="77.05" y1="555" x2="77.05" y2="557.8" stroke="#333333" stroke-width="1"/>
<text x="77.05" y="566.2" font-size="8.3" fill="#4d4d4d" text-anchor="middle">0</text>
<line x1="103.62" y1="555" x2="103.62" y2="557.8" stroke="#333333" stroke-width="1"/>
<text x="103.62" y="566.2" font-size="8.3" fill="#4d4d4d" text-anchor="middle">20</text>
<line x1="130.19" y1="555" x2="130.19" y2="557.8" stroke="#333333" stroke-width="1"/>
<text x="130.19" y="566.2" font-size="8.3" fill="#4d4d4d" text-anchor="middle">40</text>
<line x1="156.77" y1="555" x2="156.77" y2="557.8" stroke="#333333" stroke-width="1"/>
<text x="156.77" y="566.2" font-size="8.3" fill="#4d4d4d" text-anchor="middle">60</text>
<line x1="183.34" y1="555" x2="183.34" y2="557.8" stroke="#333333" stroke-width="1"/>
<text x="183.34" y="566.2" font-size="8.3" fill="#4d4d4d" text-anchor="middle">80</text>
<line x1="209.91" y1="555" x2="209.91" y2="557.8" stroke="#333333" stroke-width="1"/>
<text x="209.91" y="566.2" font-size="8.3" fill="#4d4d4d" text-anchor="middle">100</text>
<line x1="236.48" y1="555" x2="236.48" y2="557.8" stroke="#333333" stroke-width="1"/>
<text x="236.48" y="566.2" font-size="8.3" fill="#4d4d4d" text-anchor="middle">120</text>
<line x1="36.7" y1="549" x2="39.5" y2="549" stroke="#333333" stroke-width="1"/>
<text x="35.2" y="552" font-size="8.3" fill="#4d4d4d" text-anchor="end">0</text>
<line x1="36.7" y1="529" x2="39.5" y2="529" stroke="#333333" stroke-width="1"/>
<text x="35.2" y="532" font-size="8.3" fill="#4d4d4d" text-anchor="end">200</text>
<line x1="36.7" y1="509" x2="39.5" y2="509" stroke="#333333" stroke-width="1"/>
<text x="35.2" y="512" font-size="8.3" fill="#4d4d4d" text-anchor="end">400</text>
<line x1="36.7" y1="489" x2="39.5" y2="489" stroke="#333333" stroke-width="1"/>
<text x="35.2" y="492" font-size="8.3" fill="#4d4d4d" text-anchor="end">600</text>
<line x1="36.7" y1="469" x2="39.5" y2="469" stroke="#333333" stroke-width="1"/>
<text x="35.2" y="472" font-size="8.3" fill="#4d4d4d" text-anchor="end">800</text>
<line x1="36.7" y1="449" x2="39.5" y2="449" stroke="#333333" stroke-width="1"/>
<text x="35.2" y="452" font-size="8.3" fill="#4d4d4d" text-anchor="end">1000</text>
<line x1="36.7" y1="429" x2="39.5" y2="429" stroke="#333333" stroke-width="1"/>
<text x="35.2" y="432" font-size="8.3" fill="#4d4d4d" text-anchor="end">1200</text>
<text x="0" y="402" font-size="18" font-weight="bold" fill="#000">C</text>
<text x="40" y="405.1" font-size="11.3" fill="#000">GCK−MODY</text>
<text transform="translate(10.1,485.6) rotate(-90)" font-size="10" fill="#000" text-anchor="middle">Insulin secretion rate (pmol/min/m<tspan font-size='7' dy='-4'>2</tspan><tspan dy='4'>)</tspan></text>
<text x="142.65" y="578.7" font-size="10" fill="#000" text-anchor="middle">Time (min)</text>
<line x1="174.5" y1="436.2" x2="187.5" y2="436.2" stroke="#0000ff" stroke-width="1.2"/>
<circle cx="181" cy="436.2" r="1.1" fill="#0000ff"/>
<text x="194" y="439.2" font-size="8.3" fill="#000" textLength="43.2" lengthAdjust="spacingAndGlyphs">Dorzagliatin</text>
<line x1="174.5" y1="452" x2="187.5" y2="452" stroke="#ff0000" stroke-width="1.2"/>
<circle cx="181" cy="452" r="1.1" fill="#ff0000"/>
<text x="194" y="455" font-size="8.3" fill="#000" textLength="29.5" lengthAdjust="spacingAndGlyphs">Placebo</text>
<polygon points="49.81,540.4 50.48,540.34 51.14,540.28 51.81,540.23 52.47,540.18 53.14,540.12 53.8,540.08 54.46,540.03 55.13,539.99 55.79,539.95 56.46,539.91 57.12,539.87 57.79,539.84 58.45,539.81 59.11,539.79 59.78,539.76 60.44,539.75 61.11,539.73 61.77,539.72 62.44,539.71 63.1,539.7 63.76,539.7 64.43,539.7 65.09,539.71 65.76,539.72 66.42,539.74 67.09,539.76 67.75,539.78 68.41,539.8 69.08,539.83 69.74,539.85 70.41,539.87 71.07,539.9 71.74,539.92 72.4,539.94 73.06,539.96 73.73,539.98 74.39,539.99 75.06,540 75.72,540 76.39,539.86 77.05,539.6 77.05,542.4 76.39,542.66 75.72,542.8 75.06,542.8 74.39,542.79 73.73,542.78 73.06,542.76 72.4,542.74 71.74,542.72 71.07,542.7 70.41,542.67 69.74,542.65 69.08,542.63 68.41,542.6 67.75,542.58 67.09,542.56 66.42,542.54 65.76,542.52 65.09,542.51 64.43,542.5 63.76,542.5 63.1,542.5 62.44,542.51 61.77,542.52 61.11,542.53 60.44,542.55 59.78,542.56 59.11,542.59 58.45,542.61 57.79,542.64 57.12,542.67 56.46,542.71 55.79,542.75 55.13,542.79 54.46,542.83 53.8,542.88 53.14,542.92 52.47,542.98 51.81,543.03 51.14,543.08 50.48,543.14 49.81,543.2" fill="#0000ff" stroke="#0000ff" stroke-width="0.6" stroke-linejoin="round"/>
<polygon points="49.81,542.5 50.48,542.49 51.14,542.49 51.81,542.48 52.47,542.47 53.14,542.46 53.8,542.46 54.46,542.45 55.13,542.45 55.79,542.44 56.46,542.43 57.12,542.43 57.79,542.42 58.45,542.42 59.11,542.41 59.78,542.41 60.44,542.41 61.11,542.4 61.77,542.4 62.44,542.4 63.1,542.4 63.76,542.4 64.43,542.4 65.09,542.4 65.76,542.4 66.42,542.4 67.09,542.4 67.75,542.4 68.41,542.4 69.08,542.4 69.74,542.4 70.41,542.4 71.07,542.4 71.74,542.4 72.4,542.4 73.06,542.4 73.73,542.4 74.39,542.4 75.06,542.4 75.72,542.4 76.39,542.33 77.05,542.2 77.05,545.4 76.39,545.53 75.72,545.6 75.06,545.6 74.39,545.6 73.73,545.6 73.06,545.6 72.4,545.6 71.74,545.6 71.07,545.6 70.41,545.6 69.74,545.6 69.08,545.6 68.41,545.6 67.75,545.6 67.09,545.6 66.42,545.6 65.76,545.6 65.09,545.6 64.43,545.6 63.76,545.6 63.1,545.6 62.44,545.6 61.77,545.6 61.11,545.6 60.44,545.61 59.78,545.61 59.11,545.61 58.45,545.62 57.79,545.62 57.12,545.63 56.46,545.63 55.79,545.64 55.13,545.65 54.46,545.65 53.8,545.66 53.14,545.66 52.47,545.67 51.81,545.68 51.14,545.69 50.48,545.69 49.81,545.7" fill="#ff0000" stroke="#ff0000" stroke-width="0.6" stroke-linejoin="round"/>
<polygon points="86.08,525.2 86.75,523.76 87.41,522.46 87.68,522 88.08,521.35 88.74,520.33 89.41,519.4 90.07,518.59 90.34,518.3 90.73,517.89 91.4,517.24 92.06,516.65 92.73,516.16 92.99,516 93.39,515.77 94.06,515.42 94.72,515.09 95.38,514.78 96.05,514.49 96.71,514.23 97.38,513.98 98.04,513.75 98.71,513.54 99.37,513.35 100.03,513.17 100.3,513.1 100.7,513 101.36,512.84 102.03,512.68 102.69,512.52 103.36,512.37 104.02,512.22 104.68,512.07 105.35,511.93 106.01,511.79 106.68,511.65 107.34,511.51 108.01,511.38 108.67,511.25 109.33,511.13 110,511 110.66,510.88 111.33,510.76 111.99,510.64 112.66,510.53 113.32,510.41 113.99,510.3 114.65,510.19 115.31,510.08 115.98,509.98 116.64,509.87 117.31,509.77 117.97,509.66 118.64,509.56 119.3,509.46 119.96,509.36 120.36,509.3 120.63,509.26 121.29,509.16 121.96,509.06 122.62,508.96 123.29,508.86 123.95,508.76 124.61,508.65 125.28,508.55 125.94,508.45 126.61,508.35 127.27,508.25 127.94,508.15 128.6,508.05 129.26,507.96 129.93,507.86 130.59,507.76 131.26,507.67 131.92,507.58 132.59,507.49 133.25,507.4 133.91,507.31 134.58,507.23 135.24,507.15 135.91,507.07 136.57,506.99 137.24,506.92 137.9,506.84 138.56,506.78 139.23,506.71 139.89,506.65 140.42,506.6 140.56,506.59 141.22,506.53 141.89,506.47 142.55,506.41 143.21,506.35 143.88,506.29 144.54,506.23 145.21,506.17 145.87,506.11 146.54,506.05 147.2,506 147.86,505.94 148.53,505.88 149.19,505.83 149.86,505.78 150.52,505.73 151.19,505.68 151.85,505.63 152.51,505.59 153.18,505.54 153.84,505.5 154.51,505.47 155.17,505.43 155.84,505.4 156.5,505.38 157.16,505.35 157.83,505.34 158.49,505.32 159.16,505.31 159.82,505.3 160.49,505.3 161.15,505.3 161.81,505.3 162.48,505.3 163.14,505.3 163.81,505.3 164.47,505.3 165.14,505.3 165.8,505.3 166.46,505.3 167.13,505.3 167.79,505.3 168.46,505.3 169.12,505.3 169.79,505.3 170.45,505.3 170.58,505.3 171.11,505.3 171.78,505.32 172.44,505.36 173.11,505.4 173.77,505.45 174.44,505.52 175.1,505.58 175.76,505.66 176.43,505.74 177.09,505.81 177.76,505.89 178.42,505.97 179.09,506.05 179.75,506.12 180.42,506.19 180.55,506.2 181.08,506.25 181.74,506.32 182.41,506.39 183.07,506.47 183.74,506.55 184.4,506.63 185.07,506.71 185.73,506.78 186.39,506.86 187.06,506.93 187.72,507 188.39,507.06 189.05,507.11 189.72,507.15 190.38,507.19 190.65,507.2 191.04,507.21 191.71,507.23 192.37,507.25 193.04,507.26 193.7,507.27 194.37,507.28 195.03,507.28 195.69,507.28 196.36,507.27 197.02,507.26 197.69,507.25 198.35,507.24 199.02,507.22 199.68,507.19 200.34,507.17 201.01,507.14 201.67,507.1 202.34,507.07 203,507.03 203.67,506.98 204.33,506.94 204.99,506.89 205.66,506.83 206.06,506.8 206.32,506.78 206.99,506.7 207.65,506.6 208.32,506.49 208.98,506.35 209.64,506.2 210.31,506.04 210.97,505.86 211.64,505.66 212.3,505.46 212.97,505.25 213.63,505.03 214.29,504.8 214.96,504.57 215.62,504.33 216.29,504.1 216.95,503.86 217.62,503.62 218.28,503.38 218.94,503.14 219.61,502.91 220.27,502.69 220.94,502.47 221.47,502.3 221.6,502.26 222.27,502.05 222.93,501.84 223.59,501.62 224.26,501.41 224.92,501.18 225.59,500.96 226.25,500.74 226.92,500.51 227.58,500.28 228.24,500.04 228.91,499.81 229.57,499.57 230.24,499.33 230.9,499.09 231.57,498.85 232.23,498.6 232.89,498.36 233.56,498.11 234.22,497.86 234.89,497.61 235.55,497.36 236.22,497.1 236.48,497 236.48,508.4 236.22,508.43 235.55,508.49 234.89,508.56 234.22,508.62 233.56,508.69 232.89,508.76 232.23,508.84 231.57,508.91 230.9,508.98 230.24,509.06 229.57,509.14 228.91,509.22 228.24,509.31 227.58,509.39 226.92,509.48 226.25,509.57 225.59,509.66 224.92,509.76 224.26,509.86 223.59,509.96 222.93,510.06 222.27,510.17 221.6,510.28 221.47,510.3 220.94,510.39 220.27,510.51 219.61,510.64 218.94,510.78 218.28,510.91 217.62,511.06 216.95,511.2 216.29,511.35 215.62,511.5 214.96,511.65 214.29,511.79 213.63,511.94 212.97,512.08 212.3,512.22 211.64,512.36 210.97,512.49 210.31,512.61 209.64,512.73 208.98,512.84 208.32,512.94 207.65,513.03 206.99,513.11 206.32,513.18 206.06,513.2 205.66,513.23 204.99,513.29 204.33,513.35 203.67,513.41 203,513.47 202.34,513.53 201.67,513.59 201.01,513.66 200.34,513.72 199.68,513.78 199.02,513.84 198.35,513.89 197.69,513.95 197.02,514 196.36,514.06 195.69,514.11 195.03,514.16 194.37,514.2 193.7,514.25 193.04,514.29 192.37,514.32 191.71,514.36 191.04,514.38 190.65,514.4 190.38,514.41 189.72,514.43 189.05,514.45 188.39,514.47 187.72,514.49 187.06,514.51 186.39,514.53 185.73,514.54 185.07,514.55 184.4,514.56 183.74,514.57 183.07,514.58 182.41,514.59 181.74,514.59 181.08,514.6 180.55,514.6 180.42,514.6 179.75,514.6 179.09,514.6 178.42,514.59 177.76,514.59 177.09,514.58 176.43,514.57 175.76,514.56 175.1,514.55 174.44,514.54 173.77,514.53 173.11,514.52 172.44,514.51 171.78,514.5 171.11,514.5 170.58,514.5 170.45,514.5 169.79,514.5 169.12,514.5 168.46,514.5 167.79,514.5 167.13,514.5 166.46,514.5 165.8,514.5 165.14,514.5 164.47,514.5 163.81,514.5 163.14,514.5 162.48,514.5 161.81,514.5 161.15,514.5 160.49,514.5 159.82,514.5 159.16,514.51 158.49,514.52 157.83,514.54 157.16,514.55 156.5,514.58 155.84,514.6 155.17,514.63 154.51,514.67 153.84,514.7 153.18,514.74 152.51,514.79 151.85,514.83 151.19,514.88 150.52,514.93 149.86,514.98 149.19,515.03 148.53,515.08 147.86,515.14 147.2,515.2 146.54,515.25 145.87,515.31 145.21,515.37 144.54,515.43 143.88,515.49 143.21,515.55 142.55,515.61 141.89,515.67 141.22,515.73 140.56,515.79 140.42,515.8 139.89,515.85 139.23,515.91 138.56,515.98 137.9,516.04 137.24,516.12 136.57,516.19 135.91,516.27 135.24,516.35 134.58,516.43 133.91,516.51 133.25,516.6 132.59,516.69 131.92,516.78 131.26,516.87 130.59,516.96 129.93,517.06 129.26,517.16 128.6,517.25 127.94,517.35 127.27,517.45 126.61,517.55 125.94,517.65 125.28,517.75 124.61,517.85 123.95,517.96 123.29,518.06 122.62,518.16 121.96,518.26 121.29,518.36 120.63,518.46 120.36,518.5 119.96,518.56 119.3,518.65 118.64,518.74 117.97,518.83 117.31,518.92 116.64,519 115.98,519.08 115.31,519.16 114.65,519.23 113.99,519.31 113.32,519.39 112.66,519.46 111.99,519.54 111.33,519.62 110.66,519.7 110,519.78 109.33,519.87 108.67,519.95 108.01,520.05 107.34,520.14 106.68,520.24 106.01,520.34 105.35,520.45 104.68,520.57 104.02,520.69 103.36,520.82 102.69,520.95 102.03,521.09 101.36,521.24 100.7,521.4 100.3,521.5 100.03,521.57 99.37,521.75 98.71,521.94 98.04,522.15 97.38,522.38 96.71,522.63 96.05,522.89 95.38,523.18 94.72,523.49 94.06,523.82 93.39,524.17 92.99,524.4 92.73,524.56 92.06,525.05 91.4,525.64 90.73,526.29 90.34,526.7 90.07,526.98 89.41,527.73 88.74,528.54 88.08,529.43 87.68,530 87.41,530.41 86.75,531.54 86.08,532.8" fill="#4646ff" stroke="#0000ff" stroke-width="1.1" stroke-linejoin="round"/>
<polyline points="86.08,529 86.75,527.65 87.41,526.44 87.68,526 88.08,525.39 88.74,524.43 89.41,523.56 90.07,522.79 90.34,522.5 90.73,522.09 91.4,521.44 92.06,520.85 92.73,520.36 92.99,520.2 93.39,519.97 94.06,519.62 94.72,519.29 95.38,518.98 96.05,518.69 96.71,518.43 97.38,518.18 98.04,517.95 98.71,517.74 99.37,517.55 100.03,517.37 100.3,517.3 100.7,517.2 101.36,517.04 102.03,516.88 102.69,516.73 103.36,516.59 104.02,516.45 104.68,516.32 105.35,516.19 106.01,516.06 106.68,515.94 107.34,515.83 108.01,515.71 108.67,515.6 109.33,515.5 110,515.39 110.66,515.29 111.33,515.19 111.99,515.09 112.66,515 113.32,514.9 113.99,514.81 114.65,514.71 115.31,514.62 115.98,514.53 116.64,514.44 117.31,514.34 117.97,514.25 118.64,514.15 119.3,514.06 119.96,513.96 120.36,513.9 120.63,513.86 121.29,513.76 121.96,513.66 122.62,513.56 123.29,513.46 123.95,513.36 124.61,513.25 125.28,513.15 125.94,513.05 126.61,512.95 127.27,512.85 127.94,512.75 128.6,512.65 129.26,512.56 129.93,512.46 130.59,512.36 131.26,512.27 131.92,512.18 132.59,512.09 133.25,512 133.91,511.91 134.58,511.83 135.24,511.75 135.91,511.67 136.57,511.59 137.24,511.52 137.9,511.44 138.56,511.38 139.23,511.31 139.89,511.25 140.42,511.2 140.56,511.19 141.22,511.13 141.89,511.07 142.55,511.01 143.21,510.95 143.88,510.89 144.54,510.83 145.21,510.77 145.87,510.71 146.54,510.65 147.2,510.6 147.86,510.54 148.53,510.48 149.19,510.43 149.86,510.38 150.52,510.33 151.19,510.28 151.85,510.23 152.51,510.19 153.18,510.14 153.84,510.1 154.51,510.07 155.17,510.03 155.84,510 156.5,509.98 157.16,509.95 157.83,509.94 158.49,509.92 159.16,509.91 159.82,509.9 160.49,509.9 161.15,509.9 161.81,509.9 162.48,509.9 163.14,509.9 163.81,509.9 164.47,509.9 165.14,509.9 165.8,509.9 166.46,509.9 167.13,509.9 167.79,509.9 168.46,509.9 169.12,509.9 169.79,509.9 170.45,509.9 170.58,509.9 171.11,509.9 171.78,509.91 172.44,509.93 173.11,509.96 173.77,509.99 174.44,510.03 175.1,510.07 175.76,510.11 176.43,510.15 177.09,510.2 177.76,510.24 178.42,510.28 179.09,510.32 179.75,510.36 180.42,510.39 180.55,510.4 181.08,510.42 181.74,510.46 182.41,510.49 183.07,510.53 183.74,510.56 184.4,510.6 185.07,510.63 185.73,510.66 186.39,510.69 187.06,510.72 187.72,510.75 188.39,510.77 189.05,510.78 189.72,510.79 190.38,510.8 190.65,510.8 191.04,510.8 191.71,510.79 192.37,510.79 193.04,510.77 193.7,510.76 194.37,510.74 195.03,510.72 195.69,510.69 196.36,510.67 197.02,510.63 197.69,510.6 198.35,510.56 199.02,510.53 199.68,510.48 200.34,510.44 201.01,510.4 201.67,510.35 202.34,510.3 203,510.25 203.67,510.2 204.33,510.14 204.99,510.09 205.66,510.03 206.06,510 206.32,509.98 206.99,509.9 207.65,509.82 208.32,509.71 208.98,509.6 209.64,509.47 210.31,509.32 210.97,509.17 211.64,509.01 212.3,508.84 212.97,508.67 213.63,508.48 214.29,508.3 214.96,508.11 215.62,507.92 216.29,507.72 216.95,507.53 217.62,507.34 218.28,507.15 218.94,506.96 219.61,506.78 220.27,506.6 220.94,506.43 221.47,506.3 221.6,506.27 222.27,506.11 222.93,505.95 223.59,505.79 224.26,505.63 224.92,505.47 225.59,505.31 226.25,505.15 226.92,504.99 227.58,504.83 228.24,504.67 228.91,504.52 229.57,504.36 230.24,504.2 230.9,504.04 231.57,503.88 232.23,503.72 232.89,503.56 233.56,503.4 234.22,503.24 234.89,503.08 235.55,502.92 236.22,502.76 236.48,502.7" fill="none" stroke="#0000ff" stroke-width="1.5"/>
<polygon points="86.08,535.7 86.75,534.71 87.41,533.77 87.68,533.4 88.08,532.86 88.74,531.96 89.41,531.09 90.07,530.29 90.34,530 90.73,529.58 91.4,528.9 92.06,528.27 92.73,527.7 92.99,527.5 93.39,527.2 94.06,526.71 94.72,526.23 95.38,525.75 96.05,525.3 96.71,524.88 97.38,524.48 98.04,524.13 98.71,523.82 99.37,523.56 100.03,523.36 100.3,523.3 100.7,523.22 101.36,523.08 102.03,522.95 102.69,522.83 103.36,522.72 104.02,522.61 104.68,522.51 105.35,522.41 106.01,522.32 106.68,522.23 107.34,522.15 108.01,522.07 108.67,522 109.33,521.93 110,521.86 110.66,521.8 111.33,521.74 111.99,521.68 112.66,521.62 113.32,521.57 113.99,521.52 114.65,521.47 115.31,521.43 115.98,521.38 116.64,521.34 117.31,521.3 117.97,521.25 118.64,521.21 119.3,521.17 119.96,521.13 120.36,521.1 120.63,521.08 121.29,521.04 121.96,521 122.62,520.96 123.29,520.92 123.95,520.88 124.61,520.85 125.28,520.81 125.94,520.77 126.61,520.74 127.27,520.7 127.94,520.67 128.6,520.64 129.26,520.61 129.93,520.58 130.59,520.55 131.26,520.52 131.92,520.49 132.59,520.46 133.25,520.44 133.91,520.41 134.58,520.39 135.24,520.36 135.91,520.34 136.57,520.32 137.24,520.3 137.9,520.27 138.56,520.25 139.23,520.23 139.89,520.21 140.42,520.2 140.56,520.2 141.22,520.18 141.89,520.16 142.55,520.14 143.21,520.12 143.88,520.11 144.54,520.09 145.21,520.07 145.87,520.06 146.54,520.04 147.2,520.02 147.86,520.01 148.53,519.99 149.19,519.98 149.86,519.96 150.52,519.95 151.19,519.94 151.85,519.92 152.51,519.91 153.18,519.9 153.84,519.89 154.51,519.87 155.17,519.86 155.84,519.85 156.5,519.84 157.16,519.84 157.83,519.83 158.49,519.82 159.16,519.81 159.82,519.81 160.49,519.8 161.15,519.79 161.81,519.79 162.48,519.79 163.14,519.78 163.81,519.78 164.47,519.77 165.14,519.77 165.8,519.77 166.46,519.77 167.13,519.76 167.79,519.76 168.46,519.76 169.12,519.76 169.79,519.75 170.45,519.75 171.11,519.75 171.78,519.75 172.44,519.74 173.11,519.74 173.77,519.74 174.44,519.74 175.1,519.73 175.76,519.73 176.43,519.73 177.09,519.72 177.76,519.72 178.42,519.72 179.09,519.71 179.75,519.71 180.42,519.7 180.55,519.7 181.08,519.69 181.74,519.69 182.41,519.68 183.07,519.67 183.74,519.65 184.4,519.64 185.07,519.63 185.73,519.61 186.39,519.59 187.06,519.57 187.72,519.55 188.39,519.53 189.05,519.51 189.72,519.49 190.38,519.46 191.04,519.44 191.71,519.41 192.37,519.39 193.04,519.36 193.7,519.34 194.37,519.31 195.03,519.28 195.69,519.25 196.36,519.22 197.02,519.2 197.69,519.17 198.35,519.14 199.02,519.11 199.28,519.1 199.68,519.08 200.34,519.05 201.01,519.02 201.67,518.99 202.34,518.95 203,518.91 203.67,518.88 204.33,518.84 204.99,518.8 205.66,518.75 206.32,518.71 206.99,518.67 207.65,518.62 208.32,518.57 208.98,518.52 209.64,518.48 210.31,518.43 210.97,518.37 211.64,518.32 212.3,518.27 212.97,518.22 213.63,518.16 214.29,518.11 214.96,518.05 215.62,518 216.29,517.94 216.95,517.89 217.62,517.83 218.28,517.77 218.94,517.72 219.61,517.66 220.27,517.6 220.94,517.55 221.47,517.5 221.6,517.49 222.27,517.43 222.93,517.37 223.59,517.31 224.26,517.25 224.92,517.18 225.59,517.12 226.25,517.05 226.92,516.98 227.58,516.91 228.24,516.84 228.91,516.77 229.57,516.7 230.24,516.63 230.9,516.55 231.57,516.48 232.23,516.4 232.89,516.32 233.56,516.25 234.22,516.17 234.89,516.09 235.55,516.01 236.22,515.93 236.48,515.9 236.48,523.5 236.22,523.52 235.55,523.58 234.89,523.64 234.22,523.69 233.56,523.75 232.89,523.81 232.23,523.86 231.57,523.92 230.9,523.97 230.24,524.03 229.57,524.08 228.91,524.13 228.24,524.19 227.58,524.24 226.92,524.29 226.25,524.34 225.59,524.39 224.92,524.44 224.26,524.49 223.59,524.54 222.93,524.59 222.27,524.64 221.6,524.69 221.47,524.7 220.94,524.74 220.27,524.79 219.61,524.84 218.94,524.89 218.28,524.93 217.62,524.98 216.95,525.03 216.29,525.08 215.62,525.13 214.96,525.18 214.29,525.23 213.63,525.28 212.97,525.33 212.3,525.37 211.64,525.42 210.97,525.47 210.31,525.51 209.64,525.56 208.98,525.6 208.32,525.65 207.65,525.69 206.99,525.73 206.32,525.77 205.66,525.81 204.99,525.84 204.33,525.88 203.67,525.91 203,525.95 202.34,525.98 201.67,526.01 201.01,526.04 200.34,526.06 199.68,526.09 199.28,526.1 199.02,526.11 198.35,526.13 197.69,526.15 197.02,526.17 196.36,526.19 195.69,526.21 195.03,526.23 194.37,526.25 193.7,526.27 193.04,526.28 192.37,526.3 191.71,526.32 191.04,526.33 190.38,526.35 189.72,526.36 189.05,526.38 188.39,526.39 187.72,526.4 187.06,526.41 186.39,526.43 185.73,526.44 185.07,526.45 184.4,526.46 183.74,526.47 183.07,526.47 182.41,526.48 181.74,526.49 181.08,526.5 180.55,526.5 180.42,526.5 179.75,526.51 179.09,526.51 178.42,526.52 177.76,526.52 177.09,526.52 176.43,526.53 175.76,526.53 175.1,526.53 174.44,526.54 173.77,526.54 173.11,526.54 172.44,526.54 171.78,526.55 171.11,526.55 170.45,526.55 169.79,526.55 169.12,526.56 168.46,526.56 167.79,526.56 167.13,526.56 166.46,526.57 165.8,526.57 165.14,526.57 164.47,526.57 163.81,526.58 163.14,526.58 162.48,526.59 161.81,526.59 161.15,526.59 160.49,526.6 159.82,526.61 159.16,526.61 158.49,526.62 157.83,526.63 157.16,526.64 156.5,526.64 155.84,526.65 155.17,526.66 154.51,526.67 153.84,526.69 153.18,526.7 152.51,526.71 151.85,526.72 151.19,526.74 150.52,526.75 149.86,526.76 149.19,526.78 148.53,526.79 147.86,526.81 147.2,526.82 146.54,526.84 145.87,526.86 145.21,526.87 144.54,526.89 143.88,526.91 143.21,526.92 142.55,526.94 141.89,526.96 141.22,526.98 140.56,527 140.42,527 139.89,527.01 139.23,527.03 138.56,527.05 137.9,527.07 137.24,527.1 136.57,527.12 135.91,527.14 135.24,527.16 134.58,527.19 133.91,527.21 133.25,527.24 132.59,527.26 131.92,527.29 131.26,527.32 130.59,527.35 129.93,527.38 129.26,527.41 128.6,527.44 127.94,527.47 127.27,527.5 126.61,527.54 125.94,527.57 125.28,527.61 124.61,527.65 123.95,527.68 123.29,527.72 122.62,527.76 121.96,527.8 121.29,527.84 120.63,527.88 120.36,527.9 119.96,527.93 119.3,527.97 118.64,528.01 117.97,528.06 117.31,528.11 116.64,528.16 115.98,528.21 115.31,528.26 114.65,528.31 113.99,528.37 113.32,528.43 112.66,528.49 111.99,528.55 111.33,528.62 110.66,528.69 110,528.76 109.33,528.84 108.67,528.92 108.01,529 107.34,529.09 106.68,529.18 106.01,529.28 105.35,529.38 104.68,529.48 104.02,529.59 103.36,529.71 102.69,529.83 102.03,529.95 101.36,530.08 100.7,530.22 100.3,530.3 100.03,530.36 99.37,530.56 98.71,530.82 98.04,531.13 97.38,531.48 96.71,531.88 96.05,532.3 95.38,532.75 94.72,533.23 94.06,533.71 93.39,534.2 92.99,534.5 92.73,534.7 92.06,535.27 91.4,535.9 90.73,536.58 90.34,537 90.07,537.29 89.41,538.05 88.74,538.86 88.08,539.7 87.68,540.2 87.41,540.54 86.75,541.41 86.08,542.3" fill="#ff4646" stroke="#ff0000" stroke-width="1.1" stroke-linejoin="round"/>
<polyline points="86.08,539 86.75,538.06 87.41,537.15 87.68,536.8 88.08,536.28 88.74,535.41 89.41,534.57 90.07,533.79 90.34,533.5 90.73,533.08 91.4,532.4 92.06,531.77 92.73,531.2 92.99,531 93.39,530.7 94.06,530.21 94.72,529.73 95.38,529.25 96.05,528.8 96.71,528.38 97.38,527.98 98.04,527.63 98.71,527.32 99.37,527.06 100.03,526.86 100.3,526.8 100.7,526.72 101.36,526.58 102.03,526.45 102.69,526.33 103.36,526.21 104.02,526.1 104.68,526 105.35,525.89 106.01,525.8 106.68,525.71 107.34,525.62 108.01,525.54 108.67,525.46 109.33,525.38 110,525.31 110.66,525.24 111.33,525.18 111.99,525.12 112.66,525.06 113.32,525 113.99,524.95 114.65,524.89 115.31,524.84 115.98,524.79 116.64,524.75 117.31,524.7 117.97,524.66 118.64,524.61 119.3,524.57 119.96,524.53 120.36,524.5 120.63,524.48 121.29,524.44 121.96,524.4 122.62,524.36 123.29,524.32 123.95,524.28 124.61,524.25 125.28,524.21 125.94,524.17 126.61,524.14 127.27,524.1 127.94,524.07 128.6,524.04 129.26,524.01 129.93,523.98 130.59,523.95 131.26,523.92 131.92,523.89 132.59,523.86 133.25,523.84 133.91,523.81 134.58,523.79 135.24,523.76 135.91,523.74 136.57,523.72 137.24,523.7 137.9,523.67 138.56,523.65 139.23,523.63 139.89,523.61 140.42,523.6 140.56,523.6 141.22,523.58 141.89,523.56 142.55,523.54 143.21,523.52 143.88,523.51 144.54,523.49 145.21,523.47 145.87,523.46 146.54,523.44 147.2,523.42 147.86,523.41 148.53,523.39 149.19,523.38 149.86,523.36 150.52,523.35 151.19,523.34 151.85,523.32 152.51,523.31 153.18,523.3 153.84,523.29 154.51,523.27 155.17,523.26 155.84,523.25 156.5,523.24 157.16,523.24 157.83,523.23 158.49,523.22 159.16,523.21 159.82,523.21 160.49,523.2 161.15,523.19 161.81,523.19 162.48,523.19 163.14,523.18 163.81,523.18 164.47,523.17 165.14,523.17 165.8,523.17 166.46,523.17 167.13,523.16 167.79,523.16 168.46,523.16 169.12,523.16 169.79,523.15 170.45,523.15 171.11,523.15 171.78,523.15 172.44,523.14 173.11,523.14 173.77,523.14 174.44,523.14 175.1,523.13 175.76,523.13 176.43,523.13 177.09,523.12 177.76,523.12 178.42,523.12 179.09,523.11 179.75,523.11 180.42,523.1 180.55,523.1 181.08,523.1 181.74,523.09 182.41,523.08 183.07,523.07 183.74,523.06 184.4,523.05 185.07,523.04 185.73,523.02 186.39,523.01 187.06,522.99 187.72,522.98 188.39,522.96 189.05,522.94 189.72,522.92 190.38,522.91 191.04,522.89 191.71,522.87 192.37,522.84 193.04,522.82 193.7,522.8 194.37,522.78 195.03,522.76 195.69,522.73 196.36,522.71 197.02,522.68 197.69,522.66 198.35,522.63 199.02,522.61 199.28,522.6 199.68,522.58 200.34,522.56 201.01,522.53 201.67,522.5 202.34,522.47 203,522.43 203.67,522.4 204.33,522.36 204.99,522.32 205.66,522.28 206.32,522.24 206.99,522.2 207.65,522.15 208.32,522.11 208.98,522.06 209.64,522.02 210.31,521.97 210.97,521.92 211.64,521.87 212.3,521.82 212.97,521.77 213.63,521.72 214.29,521.67 214.96,521.62 215.62,521.57 216.29,521.51 216.95,521.46 217.62,521.41 218.28,521.35 218.94,521.3 219.61,521.25 220.27,521.2 220.94,521.14 221.47,521.1 221.6,521.09 222.27,521.04 222.93,520.98 223.59,520.93 224.26,520.87 224.92,520.81 225.59,520.75 226.25,520.7 226.92,520.64 227.58,520.58 228.24,520.51 228.91,520.45 229.57,520.39 230.24,520.33 230.9,520.26 231.57,520.2 232.23,520.13 232.89,520.07 233.56,520 234.22,519.93 234.89,519.86 235.55,519.8 236.22,519.73 236.48,519.7" fill="none" stroke="#ff0000" stroke-width="1.5"/>
<polyline points="77.05,543.8 77.85,521 78.38,507 79.44,477 79.84,454.3 81.43,479 82.5,501 83.16,511 83.96,523 85.02,534 86.08,539" fill="none" stroke="#ff0000" stroke-width="1.2" stroke-linejoin="round"/>
<polyline points="77.05,541 77.85,520 78.38,504 79.44,471 79.84,441.8 81.43,471 82.5,495 83.16,506 83.96,519 85.02,526 86.08,529" fill="none" stroke="#0000ff" stroke-width="1.0" stroke-linejoin="round"/>
<path d="M78.38,499V509M77.18,499h2.4M77.18,509h2.4" stroke="#0000ff" stroke-width="1" fill="none"/>
<path d="M79.04,478V490M77.84,478h2.4M77.84,490h2.4" stroke="#0000ff" stroke-width="1" fill="none"/>
<path d="M79.84,422.8V460.8M78.64,422.8h2.4M78.64,460.8h2.4" stroke="#0000ff" stroke-width="1" fill="none"/>
<path d="M80.64,447V465M79.44,447h2.4M79.44,465h2.4" stroke="#0000ff" stroke-width="1" fill="none"/>
<path d="M81.43,463V479M80.23,463h2.4M80.23,479h2.4" stroke="#0000ff" stroke-width="1" fill="none"/>
<path d="M82.5,489V501M81.3,489h2.4M81.3,501h2.4" stroke="#0000ff" stroke-width="1" fill="none"/>
<path d="M83.96,514.5V523.5M82.76,514.5h2.4M82.76,523.5h2.4" stroke="#0000ff" stroke-width="1" fill="none"/>
<path d="M85.02,522V530M83.82,522h2.4M83.82,530h2.4" stroke="#0000ff" stroke-width="1" fill="none"/>
<path d="M78.38,502V512M77.18,502h2.4M77.18,512h2.4" stroke="#ff0000" stroke-width="1" fill="none"/>
<path d="M79.84,430.3V478.3M78.64,430.3h2.4M78.64,478.3h2.4" stroke="#ff0000" stroke-width="1" fill="none"/>
<path d="M81.43,470V488M80.23,470h2.4M80.23,488h2.4" stroke="#ff0000" stroke-width="1" fill="none"/>
<path d="M82.5,495V507M81.3,495h2.4M81.3,507h2.4" stroke="#ff0000" stroke-width="1" fill="none"/>
<path d="M83.96,518.5V527.5M82.76,518.5h2.4M82.76,527.5h2.4" stroke="#ff0000" stroke-width="1" fill="none"/>
<path d="M85.02,530.5V537.5M83.82,530.5h2.4M83.82,537.5h2.4" stroke="#ff0000" stroke-width="1" fill="none"/>
<circle cx="78.38" cy="504" r="1.0" fill="#0000ff"/>
<circle cx="79.04" cy="484" r="1.0" fill="#0000ff"/>
<circle cx="79.84" cy="441.8" r="1.0" fill="#0000ff"/>
<circle cx="80.64" cy="456" r="1.0" fill="#0000ff"/>
<circle cx="81.43" cy="471" r="1.0" fill="#0000ff"/>
<circle cx="82.5" cy="495" r="1.0" fill="#0000ff"/>
<circle cx="83.96" cy="519" r="1.0" fill="#0000ff"/>
<circle cx="85.02" cy="526" r="1.0" fill="#0000ff"/>
<circle cx="78.38" cy="507" r="1.0" fill="#ff0000"/>
<circle cx="79.84" cy="454.3" r="1.0" fill="#ff0000"/>
<circle cx="81.43" cy="479" r="1.0" fill="#ff0000"/>
<circle cx="82.5" cy="501" r="1.0" fill="#ff0000"/>
<circle cx="83.96" cy="523" r="1.0" fill="#ff0000"/>
<circle cx="85.02" cy="534" r="1.0" fill="#ff0000"/>
<rect x="313.25" y="413.25" width="205.75" height="142" fill="none" stroke="#c4c4c4" stroke-width="1"/>
<rect x="323.4" y="412.65" width="1" height="1.2" fill="#fff"/>
<rect x="323.4" y="554.65" width="1" height="1.2" fill="#fff"/>
<rect x="336.7" y="412.65" width="1" height="1.2" fill="#fff"/>
<rect x="336.7" y="554.65" width="1" height="1.2" fill="#fff"/>
<rect x="350" y="412.65" width="1" height="1.2" fill="#fff"/>
<rect x="350" y="554.65" width="1" height="1.2" fill="#fff"/>
<rect x="363.3" y="412.65" width="1" height="1.2" fill="#fff"/>
<rect x="363.3" y="554.65" width="1" height="1.2" fill="#fff"/>
<rect x="376.6" y="412.65" width="1" height="1.2" fill="#fff"/>
<rect x="376.6" y="554.65" width="1" height="1.2" fill="#fff"/>
<rect x="389.9" y="412.65" width="1" height="1.2" fill="#fff"/>
<rect x="389.9" y="554.65" width="1" height="1.2" fill="#fff"/>
<rect x="403.2" y="412.65" width="1" height="1.2" fill="#fff"/>
<rect x="403.2" y="554.65" width="1" height="1.2" fill="#fff"/>
<rect x="416.5" y="412.65" width="1" height="1.2" fill="#fff"/>
<rect x="416.5" y="554.65" width="1" height="1.2" fill="#fff"/>
<rect x="429.8" y="412.65" width="1" height="1.2" fill="#fff"/>
<rect x="429.8" y="554.65" width="1" height="1.2" fill="#fff"/>
<rect x="443.1" y="412.65" width="1" height="1.2" fill="#fff"/>
<rect x="443.1" y="554.65" width="1" height="1.2" fill="#fff"/>
<rect x="456.4" y="412.65" width="1" height="1.2" fill="#fff"/>
<rect x="456.4" y="554.65" width="1" height="1.2" fill="#fff"/>
<rect x="469.7" y="412.65" width="1" height="1.2" fill="#fff"/>
<rect x="469.7" y="554.65" width="1" height="1.2" fill="#fff"/>
<rect x="483" y="412.65" width="1" height="1.2" fill="#fff"/>
<rect x="483" y="554.65" width="1" height="1.2" fill="#fff"/>
<rect x="496.3" y="412.65" width="1" height="1.2" fill="#fff"/>
<rect x="496.3" y="554.65" width="1" height="1.2" fill="#fff"/>
<rect x="509.6" y="412.65" width="1" height="1.2" fill="#fff"/>
<rect x="509.6" y="554.65" width="1" height="1.2" fill="#fff"/>
<rect x="312.65" y="548.5" width="1.2" height="1" fill="#fff"/>
<rect x="518.4" y="548.5" width="1.2" height="1" fill="#fff"/>
<rect x="312.65" y="538.5" width="1.2" height="1" fill="#fff"/>
<rect x="518.4" y="538.5" width="1.2" height="1" fill="#fff"/>
<rect x="312.65" y="528.5" width="1.2" height="1" fill="#fff"/>
<rect x="518.4" y="528.5" width="1.2" height="1" fill="#fff"/>
<rect x="312.65" y="518.5" width="1.2" height="1" fill="#fff"/>
<rect x="518.4" y="518.5" width="1.2" height="1" fill="#fff"/>
<rect x="312.65" y="508.5" width="1.2" height="1" fill="#fff"/>
<rect x="518.4" y="508.5" width="1.2" height="1" fill="#fff"/>
<rect x="312.65" y="498.5" width="1.2" height="1" fill="#fff"/>
<rect x="518.4" y="498.5" width="1.2" height="1" fill="#fff"/>
<rect x="312.65" y="488.5" width="1.2" height="1" fill="#fff"/>
<rect x="518.4" y="488.5" width="1.2" height="1" fill="#fff"/>
<rect x="312.65" y="478.5" width="1.2" height="1" fill="#fff"/>
<rect x="518.4" y="478.5" width="1.2" height="1" fill="#fff"/>
<rect x="312.65" y="468.5" width="1.2" height="1" fill="#fff"/>
<rect x="518.4" y="468.5" width="1.2" height="1" fill="#fff"/>
<rect x="312.65" y="458.5" width="1.2" height="1" fill="#fff"/>
<rect x="518.4" y="458.5" width="1.2" height="1" fill="#fff"/>
<rect x="312.65" y="448.5" width="1.2" height="1" fill="#fff"/>
<rect x="518.4" y="448.5" width="1.2" height="1" fill="#fff"/>
<rect x="312.65" y="438.5" width="1.2" height="1" fill="#fff"/>
<rect x="518.4" y="438.5" width="1.2" height="1" fill="#fff"/>
<rect x="312.65" y="428.5" width="1.2" height="1" fill="#fff"/>
<rect x="518.4" y="428.5" width="1.2" height="1" fill="#fff"/>
<rect x="312.65" y="418.5" width="1.2" height="1" fill="#fff"/>
<rect x="518.4" y="418.5" width="1.2" height="1" fill="#fff"/>
<line x1="323.9" y1="555.25" x2="323.9" y2="558.05" stroke="#333333" stroke-width="1"/>
<text x="323.9" y="566.45" font-size="8.3" fill="#4d4d4d" text-anchor="middle">−20</text>
<line x1="350.5" y1="555.25" x2="350.5" y2="558.05" stroke="#333333" stroke-width="1"/>
<text x="350.5" y="566.45" font-size="8.3" fill="#4d4d4d" text-anchor="middle">0</text>
<line x1="377.1" y1="555.25" x2="377.1" y2="558.05" stroke="#333333" stroke-width="1"/>
<text x="377.1" y="566.45" font-size="8.3" fill="#4d4d4d" text-anchor="middle">20</text>
<line x1="403.7" y1="555.25" x2="403.7" y2="558.05" stroke="#333333" stroke-width="1"/>
<text x="403.7" y="566.45" font-size="8.3" fill="#4d4d4d" text-anchor="middle">40</text>
<line x1="430.3" y1="555.25" x2="430.3" y2="558.05" stroke="#333333" stroke-width="1"/>
<text x="430.3" y="566.45" font-size="8.3" fill="#4d4d4d" text-anchor="middle">60</text>
<line x1="456.9" y1="555.25" x2="456.9" y2="558.05" stroke="#333333" stroke-width="1"/>
<text x="456.9" y="566.45" font-size="8.3" fill="#4d4d4d" text-anchor="middle">80</text>
<line x1="483.5" y1="555.25" x2="483.5" y2="558.05" stroke="#333333" stroke-width="1"/>
<text x="483.5" y="566.45" font-size="8.3" fill="#4d4d4d" text-anchor="middle">100</text>
<line x1="510.1" y1="555.25" x2="510.1" y2="558.05" stroke="#333333" stroke-width="1"/>
<text x="510.1" y="566.45" font-size="8.3" fill="#4d4d4d" text-anchor="middle">120</text>
<line x1="310.45" y1="549" x2="313.25" y2="549" stroke="#333333" stroke-width="1"/>
<text x="308.95" y="552" font-size="8.3" fill="#4d4d4d" text-anchor="end">0</text>
<line x1="310.45" y1="529" x2="313.25" y2="529" stroke="#333333" stroke-width="1"/>
<text x="308.95" y="532" font-size="8.3" fill="#4d4d4d" text-anchor="end">200</text>
<line x1="310.45" y1="509" x2="313.25" y2="509" stroke="#333333" stroke-width="1"/>
<text x="308.95" y="512" font-size="8.3" fill="#4d4d4d" text-anchor="end">400</text>
<line x1="310.45" y1="489" x2="313.25" y2="489" stroke="#333333" stroke-width="1"/>
<text x="308.95" y="492" font-size="8.3" fill="#4d4d4d" text-anchor="end">600</text>
<line x1="310.45" y1="469" x2="313.25" y2="469" stroke="#333333" stroke-width="1"/>
<text x="308.95" y="472" font-size="8.3" fill="#4d4d4d" text-anchor="end">800</text>
<line x1="310.45" y1="449" x2="313.25" y2="449" stroke="#333333" stroke-width="1"/>
<text x="308.95" y="452" font-size="8.3" fill="#4d4d4d" text-anchor="end">1000</text>
<line x1="310.45" y1="429" x2="313.25" y2="429" stroke="#333333" stroke-width="1"/>
<text x="308.95" y="432" font-size="8.3" fill="#4d4d4d" text-anchor="end">1200</text>
<text x="275.2" y="402" font-size="18" font-weight="bold" fill="#000">G</text>
<text x="313" y="405.4" font-size="11.3" fill="#000">T2D</text>
<text transform="translate(284,485.6) rotate(-90)" font-size="10" fill="#000" text-anchor="middle">Insulin secretion rate (pmol/min/m<tspan font-size='7' dy='-4'>2</tspan><tspan dy='4'>)</tspan></text>
<text x="416.12" y="579.25" font-size="10" fill="#000" text-anchor="middle">Time (min)</text>
<line x1="448.5" y1="435.8" x2="461.5" y2="435.8" stroke="#0000ff" stroke-width="1.2"/>
<circle cx="455" cy="435.8" r="1.1" fill="#0000ff"/>
<text x="467.5" y="438.8" font-size="8.3" fill="#000" textLength="43.2" lengthAdjust="spacingAndGlyphs">Dorzagliatin</text>
<line x1="448.5" y1="451.8" x2="461.5" y2="451.8" stroke="#ff0000" stroke-width="1.2"/>
<circle cx="455" cy="451.8" r="1.1" fill="#ff0000"/>
<text x="467.5" y="454.8" font-size="8.3" fill="#000" textLength="29.5" lengthAdjust="spacingAndGlyphs">Placebo</text>
<polygon points="323.24,538.4 323.9,538.34 324.56,538.28 325.23,538.22 325.89,538.16 326.56,538.11 327.23,538.05 327.89,537.99 328.56,537.94 329.22,537.88 329.88,537.83 330.55,537.78 331.21,537.73 331.88,537.68 332.55,537.63 333.21,537.58 333.88,537.53 334.54,537.48 335.2,537.43 335.87,537.39 336.54,537.34 337.2,537.3 337.87,537.26 338.53,537.22 339.19,537.19 339.86,537.16 340.52,537.14 341.19,537.11 341.86,537.09 342.52,537.06 343.19,537.03 343.85,537 344.51,536.97 345.18,536.93 345.85,536.88 346.51,536.83 347.18,536.77 347.84,536.7 348.5,536.6 349.17,536.44 349.83,536.21 350.5,535.9 351.17,534.71 351.83,533.7 352.5,533.89 353.16,534.3 353.82,534.91 354.49,535.6 355.15,536.19 355.82,536.6 356.49,536.75 357.15,536.8 357.81,536.78 358.48,536.7 359.14,536.44 359.81,536 360.48,535.44 361.14,534.8 361.81,534.09 362.47,533.27 363.13,532.46 363.8,531.8 364.46,531.27 365.13,530.77 365.8,530.31 366.46,529.87 367.12,529.46 367.79,529.08 368.45,528.71 369.12,528.36 369.79,528.03 370.45,527.7 371.12,527.38 371.78,527.07 372.44,526.78 373.11,526.5 373.77,526.23 374.44,525.97 375.11,525.73 375.77,525.5 376.44,525.28 377.1,525.07 377.76,524.87 378.43,524.67 379.1,524.48 379.76,524.29 380.43,524.1 381.09,523.92 381.75,523.75 382.42,523.58 383.08,523.41 383.75,523.24 384.42,523.08 385.08,522.92 385.75,522.76 386.41,522.61 387.07,522.45 387.74,522.3 388.4,522.15 389.07,522 389.74,521.85 390.4,521.7 391.06,521.55 391.73,521.39 392.39,521.23 393.06,521.08 393.73,520.92 394.39,520.76 395.06,520.61 395.72,520.46 396.38,520.31 397.05,520.17 397.72,520.04 398.38,519.92 399.05,519.8 399.71,519.7 400.38,519.6 401.04,519.51 401.7,519.41 402.37,519.31 403.04,519.22 403.7,519.12 404.37,519.03 405.03,518.94 405.69,518.85 406.36,518.76 407.02,518.67 407.69,518.59 408.36,518.5 409.02,518.42 409.69,518.35 410.35,518.28 411.01,518.21 411.68,518.14 412.35,518.08 413.01,518.03 413.68,517.98 414.34,517.93 415,517.89 415.67,517.85 416.34,517.82 417,517.8 417.67,517.78 418.33,517.76 419,517.74 419.66,517.72 420.32,517.71 420.99,517.69 421.65,517.67 422.32,517.66 422.99,517.65 423.65,517.63 424.31,517.62 424.98,517.61 425.64,517.59 426.31,517.58 426.98,517.57 427.64,517.56 428.31,517.55 428.97,517.54 429.63,517.53 430.3,517.52 430.97,517.51 431.63,517.5 432.3,517.49 432.96,517.49 433.62,517.48 434.29,517.47 434.95,517.46 435.62,517.45 436.29,517.44 436.95,517.44 437.62,517.43 438.28,517.42 438.94,517.41 439.61,517.4 440.27,517.39 440.94,517.38 441.61,517.37 442.27,517.37 442.94,517.36 443.6,517.35 444.26,517.35 444.93,517.34 445.6,517.33 446.26,517.33 446.93,517.32 447.59,517.32 448.25,517.31 448.92,517.3 449.59,517.3 450.25,517.29 450.92,517.28 451.58,517.28 452.25,517.27 452.91,517.26 453.57,517.25 454.24,517.24 454.9,517.23 455.57,517.22 456.24,517.21 456.9,517.2 457.56,517.19 458.23,517.17 458.89,517.16 459.56,517.14 460.23,517.12 460.89,517.09 461.56,517.07 462.22,517.05 462.88,517.02 463.55,516.99 464.22,516.96 464.88,516.93 465.55,516.9 466.21,516.87 466.88,516.83 467.54,516.8 468.21,516.76 468.87,516.73 469.54,516.69 470.2,516.65 470.87,516.61 471.53,516.57 472.19,516.53 472.86,516.49 473.52,516.45 474.19,516.4 474.86,516.36 475.52,516.32 476.19,516.28 476.85,516.23 477.51,516.19 478.18,516.15 478.85,516.1 479.51,516.06 480.18,516.01 480.84,515.97 481.5,515.93 482.17,515.88 482.84,515.84 483.5,515.8 484.17,515.76 484.83,515.72 485.5,515.67 486.16,515.63 486.83,515.59 487.49,515.54 488.15,515.5 488.82,515.46 489.49,515.41 490.15,515.37 490.81,515.32 491.48,515.28 492.14,515.23 492.81,515.19 493.48,515.14 494.14,515.1 494.81,515.05 495.47,515 496.13,514.96 496.8,514.91 497.47,514.86 498.13,514.81 498.8,514.77 499.46,514.72 500.12,514.67 500.79,514.62 501.46,514.57 502.12,514.52 502.78,514.47 503.45,514.42 504.12,514.37 504.78,514.32 505.45,514.27 506.11,514.22 506.77,514.16 507.44,514.11 508.11,514.06 508.77,514.01 509.44,513.95 510.1,513.9 510.1,520.3 509.44,520.37 508.77,520.44 508.11,520.5 507.44,520.57 506.77,520.64 506.11,520.71 505.45,520.77 504.78,520.84 504.12,520.9 503.45,520.97 502.78,521.03 502.12,521.1 501.46,521.16 500.79,521.22 500.12,521.28 499.46,521.34 498.8,521.41 498.13,521.47 497.47,521.52 496.8,521.58 496.13,521.64 495.47,521.7 494.81,521.76 494.14,521.81 493.48,521.87 492.81,521.92 492.14,521.98 491.48,522.03 490.81,522.08 490.15,522.13 489.49,522.18 488.82,522.23 488.15,522.28 487.49,522.33 486.83,522.38 486.16,522.42 485.5,522.47 484.83,522.51 484.17,522.56 483.5,522.6 482.84,522.64 482.17,522.68 481.5,522.73 480.84,522.77 480.18,522.81 479.51,522.86 478.85,522.9 478.18,522.95 477.51,522.99 476.85,523.03 476.19,523.08 475.52,523.12 474.86,523.16 474.19,523.2 473.52,523.25 472.86,523.29 472.19,523.33 471.53,523.37 470.87,523.41 470.2,523.45 469.54,523.49 468.87,523.53 468.21,523.56 467.54,523.6 466.88,523.63 466.21,523.67 465.55,523.7 464.88,523.73 464.22,523.76 463.55,523.79 462.88,523.82 462.22,523.85 461.56,523.87 460.89,523.89 460.23,523.92 459.56,523.94 458.89,523.96 458.23,523.97 457.56,523.99 456.9,524 456.24,524.01 455.57,524.02 454.9,524.03 454.24,524.04 453.57,524.05 452.91,524.06 452.25,524.07 451.58,524.08 450.92,524.08 450.25,524.09 449.59,524.1 448.92,524.1 448.25,524.11 447.59,524.12 446.93,524.12 446.26,524.13 445.6,524.13 444.93,524.14 444.26,524.15 443.6,524.15 442.94,524.16 442.27,524.17 441.61,524.17 440.94,524.18 440.27,524.19 439.61,524.2 438.94,524.21 438.28,524.22 437.62,524.23 436.95,524.24 436.29,524.24 435.62,524.25 434.95,524.26 434.29,524.27 433.62,524.28 432.96,524.29 432.3,524.29 431.63,524.3 430.97,524.31 430.3,524.32 429.63,524.33 428.97,524.34 428.31,524.35 427.64,524.36 426.98,524.37 426.31,524.38 425.64,524.39 424.98,524.41 424.31,524.42 423.65,524.43 422.99,524.45 422.32,524.46 421.65,524.47 420.99,524.49 420.32,524.51 419.66,524.52 419,524.54 418.33,524.56 417.67,524.58 417,524.6 416.34,524.62 415.67,524.65 415,524.68 414.34,524.72 413.68,524.76 413.01,524.8 412.35,524.85 411.68,524.9 411.01,524.95 410.35,525.01 409.69,525.07 409.02,525.14 408.36,525.2 407.69,525.27 407.02,525.35 406.36,525.42 405.69,525.5 405.03,525.58 404.37,525.66 403.7,525.75 403.04,525.84 402.37,525.93 401.7,526.02 401.04,526.11 400.38,526.2 399.71,526.3 399.05,526.4 398.38,526.52 397.72,526.64 397.05,526.77 396.38,526.91 395.72,527.06 395.06,527.21 394.39,527.36 393.73,527.52 393.06,527.68 392.39,527.83 391.73,527.99 391.06,528.15 390.4,528.3 389.74,528.45 389.07,528.59 388.4,528.73 387.74,528.87 387.07,529.01 386.41,529.14 385.75,529.28 385.08,529.41 384.42,529.54 383.75,529.68 383.08,529.81 382.42,529.95 381.75,530.08 381.09,530.22 380.43,530.37 379.76,530.51 379.1,530.66 378.43,530.82 377.76,530.98 377.1,531.15 376.44,531.32 375.77,531.5 375.11,531.69 374.44,531.89 373.77,532.1 373.11,532.33 372.44,532.56 371.78,532.8 371.12,533.05 370.45,533.3 369.79,533.55 369.12,533.8 368.45,534.05 367.79,534.31 367.12,534.57 366.46,534.85 365.8,535.15 365.13,535.47 364.46,535.82 363.8,536.2 363.13,536.65 362.47,537.19 361.81,537.78 361.14,538.4 360.48,539.04 359.81,539.6 359.14,540.12 358.48,540.5 357.81,540.7 357.15,540.8 356.49,540.6 355.82,540.2 355.15,539.58 354.49,538.8 353.82,537.98 353.16,537.3 352.5,536.89 351.83,536.7 351.17,537.51 350.5,538.5 349.83,538.81 349.17,539.04 348.5,539.2 347.84,539.3 347.18,539.37 346.51,539.43 345.85,539.48 345.18,539.53 344.51,539.57 343.85,539.6 343.19,539.63 342.52,539.66 341.86,539.69 341.19,539.71 340.52,539.74 339.86,539.76 339.19,539.79 338.53,539.82 337.87,539.86 337.2,539.9 336.54,539.94 335.87,539.99 335.2,540.03 334.54,540.08 333.88,540.13 333.21,540.18 332.55,540.23 331.88,540.28 331.21,540.33 330.55,540.38 329.88,540.43 329.22,540.48 328.56,540.54 327.89,540.59 327.23,540.65 326.56,540.71 325.89,540.76 325.23,540.82 324.56,540.88 323.9,540.94 323.24,541" fill="#4646ff" stroke="#0000ff" stroke-width="1.1" stroke-linejoin="round"/>
<polyline points="323.24,539.7 323.9,539.64 324.56,539.58 325.23,539.52 325.89,539.46 326.56,539.41 327.23,539.35 327.89,539.29 328.56,539.24 329.22,539.18 329.88,539.13 330.55,539.08 331.21,539.03 331.88,538.98 332.55,538.93 333.21,538.88 333.88,538.83 334.54,538.78 335.2,538.73 335.87,538.69 336.54,538.64 337.2,538.6 337.87,538.56 338.53,538.52 339.19,538.49 339.86,538.46 340.52,538.44 341.19,538.41 341.86,538.39 342.52,538.36 343.19,538.33 343.85,538.3 344.51,538.27 345.18,538.23 345.85,538.18 346.51,538.13 347.18,538.07 347.84,538 348.5,537.9 349.17,537.74 349.83,537.51 350.5,537.2 351.17,536.11 351.83,535.2 352.5,535.39 353.16,535.8 353.82,536.44 354.49,537.2 355.15,537.89 355.82,538.4 356.49,538.67 357.15,538.8 357.81,538.74 358.48,538.6 359.14,538.28 359.81,537.8 360.48,537.24 361.14,536.6 361.81,535.93 362.47,535.23 363.13,534.56 363.8,534 364.46,533.54 365.13,533.12 365.8,532.73 366.46,532.36 367.12,532.02 367.79,531.69 368.45,531.38 369.12,531.08 369.79,530.79 370.45,530.5 371.12,530.21 371.78,529.94 372.44,529.67 373.11,529.41 373.77,529.17 374.44,528.93 375.11,528.71 375.77,528.5 376.44,528.3 377.1,528.11 377.76,527.92 378.43,527.74 379.1,527.57 379.76,527.4 380.43,527.23 381.09,527.07 381.75,526.92 382.42,526.76 383.08,526.61 383.75,526.46 384.42,526.31 385.08,526.16 385.75,526.02 386.41,525.88 387.07,525.73 387.74,525.59 388.4,525.44 389.07,525.3 389.74,525.15 390.4,525 391.06,524.85 391.73,524.69 392.39,524.53 393.06,524.38 393.73,524.22 394.39,524.06 395.06,523.91 395.72,523.76 396.38,523.61 397.05,523.47 397.72,523.34 398.38,523.22 399.05,523.1 399.71,523 400.38,522.9 401.04,522.81 401.7,522.71 402.37,522.62 403.04,522.53 403.7,522.44 404.37,522.35 405.03,522.26 405.69,522.17 406.36,522.09 407.02,522.01 407.69,521.93 408.36,521.85 409.02,521.78 409.69,521.71 410.35,521.64 411.01,521.58 411.68,521.52 412.35,521.47 413.01,521.41 413.68,521.37 414.34,521.32 415,521.29 415.67,521.25 416.34,521.22 417,521.2 417.67,521.18 418.33,521.16 419,521.14 419.66,521.12 420.32,521.11 420.99,521.09 421.65,521.07 422.32,521.06 422.99,521.05 423.65,521.03 424.31,521.02 424.98,521.01 425.64,520.99 426.31,520.98 426.98,520.97 427.64,520.96 428.31,520.95 428.97,520.94 429.63,520.93 430.3,520.92 430.97,520.91 431.63,520.9 432.3,520.89 432.96,520.89 433.62,520.88 434.29,520.87 434.95,520.86 435.62,520.85 436.29,520.84 436.95,520.84 437.62,520.83 438.28,520.82 438.94,520.81 439.61,520.8 440.27,520.79 440.94,520.78 441.61,520.77 442.27,520.77 442.94,520.76 443.6,520.75 444.26,520.75 444.93,520.74 445.6,520.73 446.26,520.73 446.93,520.72 447.59,520.72 448.25,520.71 448.92,520.7 449.59,520.7 450.25,520.69 450.92,520.68 451.58,520.68 452.25,520.67 452.91,520.66 453.57,520.65 454.24,520.64 454.9,520.63 455.57,520.62 456.24,520.61 456.9,520.6 457.56,520.59 458.23,520.57 458.89,520.56 459.56,520.54 460.23,520.52 460.89,520.49 461.56,520.47 462.22,520.45 462.88,520.42 463.55,520.39 464.22,520.36 464.88,520.33 465.55,520.3 466.21,520.27 466.88,520.23 467.54,520.2 468.21,520.16 468.87,520.13 469.54,520.09 470.2,520.05 470.87,520.01 471.53,519.97 472.19,519.93 472.86,519.89 473.52,519.85 474.19,519.8 474.86,519.76 475.52,519.72 476.19,519.68 476.85,519.63 477.51,519.59 478.18,519.55 478.85,519.5 479.51,519.46 480.18,519.41 480.84,519.37 481.5,519.33 482.17,519.28 482.84,519.24 483.5,519.2 484.17,519.16 484.83,519.11 485.5,519.07 486.16,519.03 486.83,518.98 487.49,518.94 488.15,518.89 488.82,518.84 489.49,518.8 490.15,518.75 490.81,518.7 491.48,518.65 492.14,518.6 492.81,518.55 493.48,518.5 494.14,518.45 494.81,518.4 495.47,518.35 496.13,518.3 496.8,518.25 497.47,518.19 498.13,518.14 498.8,518.09 499.46,518.03 500.12,517.98 500.79,517.92 501.46,517.86 502.12,517.81 502.78,517.75 503.45,517.69 504.12,517.64 504.78,517.58 505.45,517.52 506.11,517.46 506.77,517.4 507.44,517.34 508.11,517.28 508.77,517.22 509.44,517.16 510.1,517.1" fill="none" stroke="#0000ff" stroke-width="1.5"/>
<polygon points="323.24,541.1 323.9,541.11 324.56,541.12 325.23,541.12 325.89,541.13 326.56,541.14 327.23,541.15 327.89,541.16 328.56,541.17 329.22,541.18 329.88,541.19 330.55,541.2 331.21,541.21 331.88,541.21 332.55,541.22 333.21,541.24 333.88,541.25 334.54,541.26 335.2,541.27 335.87,541.28 336.54,541.29 337.2,541.3 337.87,541.31 338.53,541.33 339.19,541.34 339.86,541.36 340.52,541.37 341.19,541.39 341.86,541.41 342.52,541.42 343.19,541.44 343.85,541.45 344.51,541.47 345.18,541.48 345.85,541.49 346.51,541.49 347.18,541.5 347.84,541.5 348.5,541.49 349.17,541.46 349.83,541.4 350.5,541.3 351.17,538.5 351.83,530.8 352.5,527.56 353.16,526.2 353.82,526.42 354.49,526.9 355.15,527.93 355.82,529.2 356.49,530.16 357.15,531 357.81,531.76 358.48,532.4 359.14,532.91 359.81,533.3 360.48,533.63 361.14,533.9 361.81,534.03 362.47,534.08 363.13,534.06 363.8,534 364.46,533.9 365.13,533.77 365.8,533.62 366.46,533.44 367.12,533.24 367.79,533.03 368.45,532.82 369.12,532.6 369.79,532.4 370.45,532.2 371.12,532 371.78,531.79 372.44,531.58 373.11,531.36 373.77,531.15 374.44,530.95 375.11,530.76 375.77,530.6 376.44,530.45 377.1,530.31 377.76,530.17 378.43,530.03 379.1,529.9 379.76,529.77 380.43,529.65 381.09,529.53 381.75,529.41 382.42,529.29 383.08,529.18 383.75,529.07 384.42,528.96 385.08,528.85 385.75,528.74 386.41,528.63 387.07,528.53 387.74,528.42 388.4,528.32 389.07,528.21 389.74,528.11 390.4,528 391.06,527.89 391.73,527.78 392.39,527.67 393.06,527.55 393.73,527.43 394.39,527.32 395.06,527.2 395.72,527.09 396.38,526.98 397.05,526.87 397.72,526.77 398.38,526.67 399.05,526.58 399.71,526.5 400.38,526.42 401.04,526.35 401.7,526.28 402.37,526.21 403.04,526.14 403.7,526.08 404.37,526.01 405.03,525.95 405.69,525.89 406.36,525.83 407.02,525.77 407.69,525.72 408.36,525.66 409.02,525.61 409.69,525.55 410.35,525.5 411.01,525.45 411.68,525.4 412.35,525.35 413.01,525.3 413.68,525.25 414.34,525.2 415,525.15 415.67,525.1 416.34,525.05 417,525 417.67,524.95 418.33,524.9 419,524.85 419.66,524.8 420.32,524.76 420.99,524.71 421.65,524.67 422.32,524.62 422.99,524.57 423.65,524.53 424.31,524.49 424.98,524.44 425.64,524.4 426.31,524.36 426.98,524.31 427.64,524.27 428.31,524.23 428.97,524.19 429.63,524.14 430.3,524.1 430.97,524.06 431.63,524.02 432.3,523.98 432.96,523.93 433.62,523.89 434.29,523.85 434.95,523.81 435.62,523.76 436.29,523.72 436.95,523.68 437.62,523.63 438.28,523.59 438.94,523.54 439.61,523.5 440.27,523.45 440.94,523.41 441.61,523.36 442.27,523.32 442.94,523.27 443.6,523.23 444.26,523.18 444.93,523.13 445.6,523.09 446.26,523.04 446.93,522.99 447.59,522.95 448.25,522.9 448.92,522.85 449.59,522.81 450.25,522.76 450.92,522.72 451.58,522.67 452.25,522.62 452.91,522.58 453.57,522.53 454.24,522.48 454.9,522.44 455.57,522.39 456.24,522.35 456.9,522.3 457.56,522.25 458.23,522.21 458.89,522.16 459.56,522.12 460.23,522.07 460.89,522.02 461.56,521.98 462.22,521.93 462.88,521.89 463.55,521.84 464.22,521.79 464.88,521.75 465.55,521.7 466.21,521.65 466.88,521.61 467.54,521.56 468.21,521.51 468.87,521.47 469.54,521.42 470.2,521.38 470.87,521.33 471.53,521.29 472.19,521.24 472.86,521.19 473.52,521.15 474.19,521.1 474.86,521.06 475.52,521.01 476.19,520.97 476.85,520.93 477.51,520.88 478.18,520.84 478.85,520.79 479.51,520.75 480.18,520.71 480.84,520.67 481.5,520.62 482.17,520.58 482.84,520.54 483.5,520.5 484.17,520.46 484.83,520.42 485.5,520.38 486.16,520.34 486.83,520.3 487.49,520.26 488.15,520.22 488.82,520.18 489.49,520.14 490.15,520.1 490.81,520.06 491.48,520.02 492.14,519.98 492.81,519.94 493.48,519.9 494.14,519.87 494.81,519.83 495.47,519.79 496.13,519.75 496.8,519.71 497.47,519.68 498.13,519.64 498.8,519.6 499.46,519.57 500.12,519.53 500.79,519.49 501.46,519.46 502.12,519.42 502.78,519.38 503.45,519.35 504.12,519.31 504.78,519.28 505.45,519.24 506.11,519.21 506.77,519.17 507.44,519.14 508.11,519.1 508.77,519.07 509.44,519.03 510.1,519 510.1,526 509.44,526.03 508.77,526.07 508.11,526.1 507.44,526.14 506.77,526.17 506.11,526.21 505.45,526.24 504.78,526.28 504.12,526.31 503.45,526.35 502.78,526.38 502.12,526.42 501.46,526.46 500.79,526.49 500.12,526.53 499.46,526.57 498.8,526.6 498.13,526.64 497.47,526.68 496.8,526.71 496.13,526.75 495.47,526.79 494.81,526.83 494.14,526.87 493.48,526.9 492.81,526.94 492.14,526.98 491.48,527.02 490.81,527.06 490.15,527.1 489.49,527.14 488.82,527.18 488.15,527.22 487.49,527.26 486.83,527.3 486.16,527.34 485.5,527.38 484.83,527.42 484.17,527.46 483.5,527.5 482.84,527.54 482.17,527.58 481.5,527.62 480.84,527.67 480.18,527.71 479.51,527.75 478.85,527.79 478.18,527.84 477.51,527.88 476.85,527.93 476.19,527.97 475.52,528.01 474.86,528.06 474.19,528.1 473.52,528.15 472.86,528.19 472.19,528.24 471.53,528.29 470.87,528.33 470.2,528.38 469.54,528.42 468.87,528.47 468.21,528.51 467.54,528.56 466.88,528.61 466.21,528.65 465.55,528.7 464.88,528.75 464.22,528.79 463.55,528.84 462.88,528.89 462.22,528.93 461.56,528.98 460.89,529.02 460.23,529.07 459.56,529.12 458.89,529.16 458.23,529.21 457.56,529.25 456.9,529.3 456.24,529.35 455.57,529.39 454.9,529.44 454.24,529.48 453.57,529.53 452.91,529.58 452.25,529.62 451.58,529.67 450.92,529.72 450.25,529.76 449.59,529.81 448.92,529.85 448.25,529.9 447.59,529.95 446.93,529.99 446.26,530.04 445.6,530.09 444.93,530.13 444.26,530.18 443.6,530.23 442.94,530.27 442.27,530.32 441.61,530.36 440.94,530.41 440.27,530.45 439.61,530.5 438.94,530.54 438.28,530.59 437.62,530.63 436.95,530.68 436.29,530.72 435.62,530.76 434.95,530.81 434.29,530.85 433.62,530.89 432.96,530.93 432.3,530.98 431.63,531.02 430.97,531.06 430.3,531.1 429.63,531.14 428.97,531.19 428.31,531.23 427.64,531.27 426.98,531.31 426.31,531.36 425.64,531.4 424.98,531.44 424.31,531.49 423.65,531.53 422.99,531.57 422.32,531.62 421.65,531.67 420.99,531.71 420.32,531.76 419.66,531.8 419,531.85 418.33,531.9 417.67,531.95 417,532 416.34,532.05 415.67,532.1 415,532.15 414.34,532.2 413.68,532.25 413.01,532.3 412.35,532.35 411.68,532.4 411.01,532.45 410.35,532.5 409.69,532.55 409.02,532.61 408.36,532.66 407.69,532.72 407.02,532.77 406.36,532.83 405.69,532.89 405.03,532.95 404.37,533.01 403.7,533.08 403.04,533.14 402.37,533.21 401.7,533.28 401.04,533.35 400.38,533.42 399.71,533.5 399.05,533.58 398.38,533.67 397.72,533.77 397.05,533.87 396.38,533.98 395.72,534.09 395.06,534.2 394.39,534.32 393.73,534.43 393.06,534.55 392.39,534.67 391.73,534.78 391.06,534.89 390.4,535 389.74,535.1 389.07,535.2 388.4,535.3 387.74,535.4 387.07,535.49 386.41,535.58 385.75,535.67 385.08,535.75 384.42,535.84 383.75,535.92 383.08,536.01 382.42,536.09 381.75,536.18 381.09,536.26 380.43,536.35 379.76,536.43 379.1,536.52 378.43,536.61 377.76,536.71 377.1,536.8 376.44,536.9 375.77,537 375.11,537.1 374.44,537.21 373.77,537.32 373.11,537.42 372.44,537.53 371.78,537.62 371.12,537.72 370.45,537.8 369.79,537.89 369.12,537.99 368.45,538.1 367.79,538.2 367.12,538.3 366.46,538.38 365.8,538.43 365.13,538.46 364.46,538.45 363.8,538.4 363.13,538.25 362.47,538 361.81,537.73 361.14,537.5 360.48,537.23 359.81,536.9 359.14,536.64 358.48,536.4 357.81,536.11 357.15,535.8 356.49,535.5 355.82,535.2 355.15,534.82 354.49,534.5 353.82,534.3 353.16,534.2 352.5,535.08 351.83,537.2 351.17,542.5 350.5,544.3 349.83,544.4 349.17,544.46 348.5,544.49 347.84,544.5 347.18,544.49 346.51,544.48 345.85,544.46 345.18,544.43 344.51,544.39 343.85,544.35 343.19,544.3 342.52,544.25 341.86,544.2 341.19,544.15 340.52,544.1 339.86,544.05 339.19,544.01 338.53,543.96 337.87,543.93 337.2,543.9 336.54,543.87 335.87,543.85 335.2,543.82 334.54,543.8 333.88,543.78 333.21,543.75 332.55,543.73 331.88,543.71 331.21,543.69 330.55,543.67 329.88,543.65 329.22,543.63 328.56,543.61 327.89,543.59 327.23,543.57 326.56,543.56 325.89,543.54 325.23,543.53 324.56,543.52 323.9,543.51 323.24,543.5" fill="#ff4646" stroke="#ff0000" stroke-width="1.1" stroke-linejoin="round"/>
<polyline points="323.24,542.3 323.9,542.31 324.56,542.32 325.23,542.33 325.89,542.34 326.56,542.35 327.23,542.36 327.89,542.37 328.56,542.39 329.22,542.4 329.88,542.42 330.55,542.43 331.21,542.45 331.88,542.46 332.55,542.48 333.21,542.49 333.88,542.51 334.54,542.53 335.2,542.55 335.87,542.56 336.54,542.58 337.2,542.6 337.87,542.62 338.53,542.65 339.19,542.67 339.86,542.7 340.52,542.74 341.19,542.77 341.86,542.8 342.52,542.84 343.19,542.87 343.85,542.9 344.51,542.93 345.18,542.95 345.85,542.97 346.51,542.99 347.18,543 347.84,543 348.5,542.99 349.17,542.96 349.83,542.9 350.5,542.8 351.17,540.5 351.83,534 352.5,531.32 353.16,530.2 353.82,530.36 354.49,530.7 355.15,531.38 355.82,532.2 356.49,532.83 357.15,533.4 357.81,533.93 358.48,534.4 359.14,534.77 359.81,535.1 360.48,535.43 361.14,535.7 361.81,535.88 362.47,536.04 363.13,536.16 363.8,536.2 364.46,536.18 365.13,536.12 365.8,536.03 366.46,535.91 367.12,535.77 367.79,535.62 368.45,535.46 369.12,535.3 369.79,535.14 370.45,535 371.12,534.86 371.78,534.71 372.44,534.55 373.11,534.39 373.77,534.23 374.44,534.08 375.11,533.93 375.77,533.8 376.44,533.68 377.1,533.55 377.76,533.44 378.43,533.32 379.1,533.21 379.76,533.1 380.43,533 381.09,532.89 381.75,532.79 382.42,532.69 383.08,532.59 383.75,532.49 384.42,532.4 385.08,532.3 385.75,532.2 386.41,532.11 387.07,532.01 387.74,531.91 388.4,531.81 389.07,531.71 389.74,531.6 390.4,531.5 391.06,531.39 391.73,531.28 392.39,531.17 393.06,531.05 393.73,530.93 394.39,530.82 395.06,530.7 395.72,530.59 396.38,530.48 397.05,530.37 397.72,530.27 398.38,530.17 399.05,530.08 399.71,530 400.38,529.92 401.04,529.85 401.7,529.78 402.37,529.71 403.04,529.64 403.7,529.58 404.37,529.51 405.03,529.45 405.69,529.39 406.36,529.33 407.02,529.27 407.69,529.22 408.36,529.16 409.02,529.11 409.69,529.05 410.35,529 411.01,528.95 411.68,528.9 412.35,528.85 413.01,528.8 413.68,528.75 414.34,528.7 415,528.65 415.67,528.6 416.34,528.55 417,528.5 417.67,528.45 418.33,528.4 419,528.35 419.66,528.3 420.32,528.26 420.99,528.21 421.65,528.17 422.32,528.12 422.99,528.07 423.65,528.03 424.31,527.99 424.98,527.94 425.64,527.9 426.31,527.86 426.98,527.81 427.64,527.77 428.31,527.73 428.97,527.69 429.63,527.64 430.3,527.6 430.97,527.56 431.63,527.52 432.3,527.48 432.96,527.43 433.62,527.39 434.29,527.35 434.95,527.31 435.62,527.26 436.29,527.22 436.95,527.18 437.62,527.13 438.28,527.09 438.94,527.04 439.61,527 440.27,526.95 440.94,526.91 441.61,526.86 442.27,526.82 442.94,526.77 443.6,526.73 444.26,526.68 444.93,526.63 445.6,526.59 446.26,526.54 446.93,526.49 447.59,526.45 448.25,526.4 448.92,526.35 449.59,526.31 450.25,526.26 450.92,526.22 451.58,526.17 452.25,526.12 452.91,526.08 453.57,526.03 454.24,525.98 454.9,525.94 455.57,525.89 456.24,525.85 456.9,525.8 457.56,525.75 458.23,525.71 458.89,525.66 459.56,525.62 460.23,525.57 460.89,525.52 461.56,525.48 462.22,525.43 462.88,525.39 463.55,525.34 464.22,525.29 464.88,525.25 465.55,525.2 466.21,525.15 466.88,525.11 467.54,525.06 468.21,525.01 468.87,524.97 469.54,524.92 470.2,524.88 470.87,524.83 471.53,524.79 472.19,524.74 472.86,524.69 473.52,524.65 474.19,524.6 474.86,524.56 475.52,524.51 476.19,524.47 476.85,524.43 477.51,524.38 478.18,524.34 478.85,524.29 479.51,524.25 480.18,524.21 480.84,524.17 481.5,524.12 482.17,524.08 482.84,524.04 483.5,524 484.17,523.96 484.83,523.92 485.5,523.88 486.16,523.84 486.83,523.8 487.49,523.76 488.15,523.72 488.82,523.68 489.49,523.64 490.15,523.6 490.81,523.56 491.48,523.52 492.14,523.48 492.81,523.44 493.48,523.4 494.14,523.37 494.81,523.33 495.47,523.29 496.13,523.25 496.8,523.21 497.47,523.18 498.13,523.14 498.8,523.1 499.46,523.07 500.12,523.03 500.79,522.99 501.46,522.96 502.12,522.92 502.78,522.88 503.45,522.85 504.12,522.81 504.78,522.78 505.45,522.74 506.11,522.71 506.77,522.67 507.44,522.64 508.11,522.6 508.77,522.57 509.44,522.53 510.1,522.5" fill="none" stroke="#ff0000" stroke-width="1.5"/>
<rect x="39.5" y="615.75" width="208.7" height="142.25" fill="none" stroke="#c4c4c4" stroke-width="1"/>
<rect x="49.89" y="615.15" width="1" height="1.2" fill="#fff"/>
<rect x="49.89" y="757.4" width="1" height="1.2" fill="#fff"/>
<rect x="62.5" y="615.15" width="1" height="1.2" fill="#fff"/>
<rect x="62.5" y="757.4" width="1" height="1.2" fill="#fff"/>
<rect x="75.1" y="615.15" width="1" height="1.2" fill="#fff"/>
<rect x="75.1" y="757.4" width="1" height="1.2" fill="#fff"/>
<rect x="87.71" y="615.15" width="1" height="1.2" fill="#fff"/>
<rect x="87.71" y="757.4" width="1" height="1.2" fill="#fff"/>
<rect x="100.31" y="615.15" width="1" height="1.2" fill="#fff"/>
<rect x="100.31" y="757.4" width="1" height="1.2" fill="#fff"/>
<rect x="112.92" y="615.15" width="1" height="1.2" fill="#fff"/>
<rect x="112.92" y="757.4" width="1" height="1.2" fill="#fff"/>
<rect x="125.53" y="615.15" width="1" height="1.2" fill="#fff"/>
<rect x="125.53" y="757.4" width="1" height="1.2" fill="#fff"/>
<rect x="138.13" y="615.15" width="1" height="1.2" fill="#fff"/>
<rect x="138.13" y="757.4" width="1" height="1.2" fill="#fff"/>
<rect x="150.73" y="615.15" width="1" height="1.2" fill="#fff"/>
<rect x="150.73" y="757.4" width="1" height="1.2" fill="#fff"/>
<rect x="163.34" y="615.15" width="1" height="1.2" fill="#fff"/>
<rect x="163.34" y="757.4" width="1" height="1.2" fill="#fff"/>
<rect x="175.94" y="615.15" width="1" height="1.2" fill="#fff"/>
<rect x="175.94" y="757.4" width="1" height="1.2" fill="#fff"/>
<rect x="188.55" y="615.15" width="1" height="1.2" fill="#fff"/>
<rect x="188.55" y="757.4" width="1" height="1.2" fill="#fff"/>
<rect x="201.15" y="615.15" width="1" height="1.2" fill="#fff"/>
<rect x="201.15" y="757.4" width="1" height="1.2" fill="#fff"/>
<rect x="213.76" y="615.15" width="1" height="1.2" fill="#fff"/>
<rect x="213.76" y="757.4" width="1" height="1.2" fill="#fff"/>
<rect x="226.37" y="615.15" width="1" height="1.2" fill="#fff"/>
<rect x="226.37" y="757.4" width="1" height="1.2" fill="#fff"/>
<rect x="238.97" y="615.15" width="1" height="1.2" fill="#fff"/>
<rect x="238.97" y="757.4" width="1" height="1.2" fill="#fff"/>
<rect x="38.9" y="750.8" width="1.2" height="1" fill="#fff"/>
<rect x="247.6" y="750.8" width="1.2" height="1" fill="#fff"/>
<rect x="38.9" y="743.63" width="1.2" height="1" fill="#fff"/>
<rect x="247.6" y="743.63" width="1.2" height="1" fill="#fff"/>
<rect x="38.9" y="736.45" width="1.2" height="1" fill="#fff"/>
<rect x="247.6" y="736.45" width="1.2" height="1" fill="#fff"/>
<rect x="38.9" y="729.28" width="1.2" height="1" fill="#fff"/>
<rect x="247.6" y="729.28" width="1.2" height="1" fill="#fff"/>
<rect x="38.9" y="722.11" width="1.2" height="1" fill="#fff"/>
<rect x="247.6" y="722.11" width="1.2" height="1" fill="#fff"/>
<rect x="38.9" y="714.94" width="1.2" height="1" fill="#fff"/>
<rect x="247.6" y="714.94" width="1.2" height="1" fill="#fff"/>
<rect x="38.9" y="707.76" width="1.2" height="1" fill="#fff"/>
<rect x="247.6" y="707.76" width="1.2" height="1" fill="#fff"/>
<rect x="38.9" y="700.59" width="1.2" height="1" fill="#fff"/>
<rect x="247.6" y="700.59" width="1.2" height="1" fill="#fff"/>
<rect x="38.9" y="693.42" width="1.2" height="1" fill="#fff"/>
<rect x="247.6" y="693.42" width="1.2" height="1" fill="#fff"/>
<rect x="38.9" y="686.25" width="1.2" height="1" fill="#fff"/>
<rect x="247.6" y="686.25" width="1.2" height="1" fill="#fff"/>
<rect x="38.9" y="679.07" width="1.2" height="1" fill="#fff"/>
<rect x="247.6" y="679.07" width="1.2" height="1" fill="#fff"/>
<rect x="38.9" y="671.9" width="1.2" height="1" fill="#fff"/>
<rect x="247.6" y="671.9" width="1.2" height="1" fill="#fff"/>
<rect x="38.9" y="664.73" width="1.2" height="1" fill="#fff"/>
<rect x="247.6" y="664.73" width="1.2" height="1" fill="#fff"/>
<rect x="38.9" y="657.56" width="1.2" height="1" fill="#fff"/>
<rect x="247.6" y="657.56" width="1.2" height="1" fill="#fff"/>
<rect x="38.9" y="650.38" width="1.2" height="1" fill="#fff"/>
<rect x="247.6" y="650.38" width="1.2" height="1" fill="#fff"/>
<rect x="38.9" y="643.21" width="1.2" height="1" fill="#fff"/>
<rect x="247.6" y="643.21" width="1.2" height="1" fill="#fff"/>
<rect x="38.9" y="636.04" width="1.2" height="1" fill="#fff"/>
<rect x="247.6" y="636.04" width="1.2" height="1" fill="#fff"/>
<rect x="38.9" y="628.87" width="1.2" height="1" fill="#fff"/>
<rect x="247.6" y="628.87" width="1.2" height="1" fill="#fff"/>
<rect x="38.9" y="621.69" width="1.2" height="1" fill="#fff"/>
<rect x="247.6" y="621.69" width="1.2" height="1" fill="#fff"/>
<line x1="63" y1="758" x2="63" y2="760.8" stroke="#333333" stroke-width="1"/>
<text x="63" y="769.2" font-size="8.3" fill="#4d4d4d" text-anchor="middle">5</text>
<line x1="88.21" y1="758" x2="88.21" y2="760.8" stroke="#333333" stroke-width="1"/>
<text x="88.21" y="769.2" font-size="8.3" fill="#4d4d4d" text-anchor="middle">6</text>
<line x1="113.42" y1="758" x2="113.42" y2="760.8" stroke="#333333" stroke-width="1"/>
<text x="113.42" y="769.2" font-size="8.3" fill="#4d4d4d" text-anchor="middle">7</text>
<line x1="138.63" y1="758" x2="138.63" y2="760.8" stroke="#333333" stroke-width="1"/>
<text x="138.63" y="769.2" font-size="8.3" fill="#4d4d4d" text-anchor="middle">8</text>
<line x1="163.84" y1="758" x2="163.84" y2="760.8" stroke="#333333" stroke-width="1"/>
<text x="163.84" y="769.2" font-size="8.3" fill="#4d4d4d" text-anchor="middle">9</text>
<line x1="189.05" y1="758" x2="189.05" y2="760.8" stroke="#333333" stroke-width="1"/>
<text x="189.05" y="769.2" font-size="8.3" fill="#4d4d4d" text-anchor="middle">10</text>
<line x1="214.26" y1="758" x2="214.26" y2="760.8" stroke="#333333" stroke-width="1"/>
<text x="214.26" y="769.2" font-size="8.3" fill="#4d4d4d" text-anchor="middle">11</text>
<line x1="239.47" y1="758" x2="239.47" y2="760.8" stroke="#333333" stroke-width="1"/>
<text x="239.47" y="769.2" font-size="8.3" fill="#4d4d4d" text-anchor="middle">12</text>
<line x1="36.7" y1="751.3" x2="39.5" y2="751.3" stroke="#333333" stroke-width="1"/>
<text x="35.2" y="754.3" font-size="8.3" fill="#4d4d4d" text-anchor="end">0</text>
<line x1="36.7" y1="736.95" x2="39.5" y2="736.95" stroke="#333333" stroke-width="1"/>
<text x="35.2" y="739.95" font-size="8.3" fill="#4d4d4d" text-anchor="end">50</text>
<line x1="36.7" y1="722.61" x2="39.5" y2="722.61" stroke="#333333" stroke-width="1"/>
<text x="35.2" y="725.61" font-size="8.3" fill="#4d4d4d" text-anchor="end">100</text>
<line x1="36.7" y1="708.26" x2="39.5" y2="708.26" stroke="#333333" stroke-width="1"/>
<text x="35.2" y="711.26" font-size="8.3" fill="#4d4d4d" text-anchor="end">150</text>
<line x1="36.7" y1="693.92" x2="39.5" y2="693.92" stroke="#333333" stroke-width="1"/>
<text x="35.2" y="696.92" font-size="8.3" fill="#4d4d4d" text-anchor="end">200</text>
<line x1="36.7" y1="679.57" x2="39.5" y2="679.57" stroke="#333333" stroke-width="1"/>
<text x="35.2" y="682.57" font-size="8.3" fill="#4d4d4d" text-anchor="end">250</text>
<line x1="36.7" y1="665.23" x2="39.5" y2="665.23" stroke="#333333" stroke-width="1"/>
<text x="35.2" y="668.23" font-size="8.3" fill="#4d4d4d" text-anchor="end">300</text>
<line x1="36.7" y1="650.88" x2="39.5" y2="650.88" stroke="#333333" stroke-width="1"/>
<text x="35.2" y="653.88" font-size="8.3" fill="#4d4d4d" text-anchor="end">350</text>
<line x1="36.7" y1="636.54" x2="39.5" y2="636.54" stroke="#333333" stroke-width="1"/>
<text x="35.2" y="639.54" font-size="8.3" fill="#4d4d4d" text-anchor="end">400</text>
<line x1="36.7" y1="622.19" x2="39.5" y2="622.19" stroke="#333333" stroke-width="1"/>
<text x="35.2" y="625.19" font-size="8.3" fill="#4d4d4d" text-anchor="end">450</text>
<text x="0" y="603.2" font-size="18" font-weight="bold" fill="#000">D</text>
<text x="40" y="608.4" font-size="11.3" fill="#000">GCK−MODY</text>
<text transform="translate(10.1,688.1) rotate(-90)" font-size="10" fill="#000" text-anchor="middle">Insulin secretion rate (pmol/min/m<tspan font-size='7' dy='-4'>2</tspan><tspan dy='4'>)</tspan></text>
<text x="143.85" y="781" font-size="10" fill="#000" text-anchor="middle">Glucose (mmol/L)</text>
<line x1="52" y1="638.5" x2="65" y2="638.5" stroke="#0000ff" stroke-width="1.2"/>
<circle cx="58.5" cy="638.5" r="1.1" fill="#0000ff"/>
<text x="71" y="641.5" font-size="8.3" fill="#000" textLength="43.2" lengthAdjust="spacingAndGlyphs">Dorzagliatin</text>
<line x1="52" y1="655" x2="65" y2="655" stroke="#ff0000" stroke-width="1.2"/>
<circle cx="58.5" cy="655" r="1.1" fill="#ff0000"/>
<text x="71" y="658" font-size="8.3" fill="#000" textLength="29.5" lengthAdjust="spacingAndGlyphs">Placebo</text>
<line x1="54.5" y1="731" x2="229.6" y2="632.7" stroke="#0000ff" stroke-width="1.2"/>
<path d="M48.75,731H59.5M48.75,729.6v2.8M59.5,729.6v2.8M54.5,726.5V735.75M53.1,726.5h2.8M53.1,735.75h2.8" stroke="#0000ff" stroke-width="1" fill="none"/>
<circle cx="54.5" cy="731" r="1.0" fill="#0000ff"/>
<path d="M224.4,632.7H234.6M224.4,631.3v2.8M234.6,631.3v2.8M229.6,623.65V641M228.2,623.65h2.8M228.2,641h2.8" stroke="#0000ff" stroke-width="1" fill="none"/>
<circle cx="229.6" cy="632.7" r="1.0" fill="#0000ff"/>
<line x1="73.25" y1="735.25" x2="237.9" y2="673.1" stroke="#ff0000" stroke-width="1.2"/>
<path d="M70.5,735.25H76.25M70.5,733.85v2.8M76.25,733.85v2.8M73.25,732.25V737.75M71.85,732.25h2.8M71.85,737.75h2.8" stroke="#ff0000" stroke-width="1" fill="none"/>
<circle cx="73.25" cy="735.25" r="1.0" fill="#ff0000"/>
<path d="M236,673.1H240M236,671.7v2.8M240,671.7v2.8M237.9,663.5V682.7M236.5,663.5h2.8M236.5,682.7h2.8" stroke="#ff0000" stroke-width="1" fill="none"/>
<circle cx="237.9" cy="673.1" r="1.0" fill="#ff0000"/>
<rect x="311.2" y="615.75" width="208" height="142.25" fill="none" stroke="#c4c4c4" stroke-width="1"/>
<rect x="317.5" y="615.15" width="1" height="1.2" fill="#fff"/>
<rect x="317.5" y="757.4" width="1" height="1.2" fill="#fff"/>
<rect x="330.3" y="615.15" width="1" height="1.2" fill="#fff"/>
<rect x="330.3" y="757.4" width="1" height="1.2" fill="#fff"/>
<rect x="343.1" y="615.15" width="1" height="1.2" fill="#fff"/>
<rect x="343.1" y="757.4" width="1" height="1.2" fill="#fff"/>
<rect x="355.9" y="615.15" width="1" height="1.2" fill="#fff"/>
<rect x="355.9" y="757.4" width="1" height="1.2" fill="#fff"/>
<rect x="368.7" y="615.15" width="1" height="1.2" fill="#fff"/>
<rect x="368.7" y="757.4" width="1" height="1.2" fill="#fff"/>
<rect x="381.5" y="615.15" width="1" height="1.2" fill="#fff"/>
<rect x="381.5" y="757.4" width="1" height="1.2" fill="#fff"/>
<rect x="394.3" y="615.15" width="1" height="1.2" fill="#fff"/>
<rect x="394.3" y="757.4" width="1" height="1.2" fill="#fff"/>
<rect x="407.1" y="615.15" width="1" height="1.2" fill="#fff"/>
<rect x="407.1" y="757.4" width="1" height="1.2" fill="#fff"/>
<rect x="419.9" y="615.15" width="1" height="1.2" fill="#fff"/>
<rect x="419.9" y="757.4" width="1" height="1.2" fill="#fff"/>
<rect x="432.7" y="615.15" width="1" height="1.2" fill="#fff"/>
<rect x="432.7" y="757.4" width="1" height="1.2" fill="#fff"/>
<rect x="445.5" y="615.15" width="1" height="1.2" fill="#fff"/>
<rect x="445.5" y="757.4" width="1" height="1.2" fill="#fff"/>
<rect x="458.3" y="615.15" width="1" height="1.2" fill="#fff"/>
<rect x="458.3" y="757.4" width="1" height="1.2" fill="#fff"/>
<rect x="471.1" y="615.15" width="1" height="1.2" fill="#fff"/>
<rect x="471.1" y="757.4" width="1" height="1.2" fill="#fff"/>
<rect x="483.9" y="615.15" width="1" height="1.2" fill="#fff"/>
<rect x="483.9" y="757.4" width="1" height="1.2" fill="#fff"/>
<rect x="496.7" y="615.15" width="1" height="1.2" fill="#fff"/>
<rect x="496.7" y="757.4" width="1" height="1.2" fill="#fff"/>
<rect x="509.5" y="615.15" width="1" height="1.2" fill="#fff"/>
<rect x="509.5" y="757.4" width="1" height="1.2" fill="#fff"/>
<rect x="310.6" y="751.1" width="1.2" height="1" fill="#fff"/>
<rect x="518.6" y="751.1" width="1.2" height="1" fill="#fff"/>
<rect x="310.6" y="743.92" width="1.2" height="1" fill="#fff"/>
<rect x="518.6" y="743.92" width="1.2" height="1" fill="#fff"/>
<rect x="310.6" y="736.75" width="1.2" height="1" fill="#fff"/>
<rect x="518.6" y="736.75" width="1.2" height="1" fill="#fff"/>
<rect x="310.6" y="729.57" width="1.2" height="1" fill="#fff"/>
<rect x="518.6" y="729.57" width="1.2" height="1" fill="#fff"/>
<rect x="310.6" y="722.39" width="1.2" height="1" fill="#fff"/>
<rect x="518.6" y="722.39" width="1.2" height="1" fill="#fff"/>
<rect x="310.6" y="715.21" width="1.2" height="1" fill="#fff"/>
<rect x="518.6" y="715.21" width="1.2" height="1" fill="#fff"/>
<rect x="310.6" y="708.03" width="1.2" height="1" fill="#fff"/>
<rect x="518.6" y="708.03" width="1.2" height="1" fill="#fff"/>
<rect x="310.6" y="700.86" width="1.2" height="1" fill="#fff"/>
<rect x="518.6" y="700.86" width="1.2" height="1" fill="#fff"/>
<rect x="310.6" y="693.68" width="1.2" height="1" fill="#fff"/>
<rect x="518.6" y="693.68" width="1.2" height="1" fill="#fff"/>
<rect x="310.6" y="686.5" width="1.2" height="1" fill="#fff"/>
<rect x="518.6" y="686.5" width="1.2" height="1" fill="#fff"/>
<rect x="310.6" y="679.33" width="1.2" height="1" fill="#fff"/>
<rect x="518.6" y="679.33" width="1.2" height="1" fill="#fff"/>
<rect x="310.6" y="672.15" width="1.2" height="1" fill="#fff"/>
<rect x="518.6" y="672.15" width="1.2" height="1" fill="#fff"/>
<rect x="310.6" y="664.97" width="1.2" height="1" fill="#fff"/>
<rect x="518.6" y="664.97" width="1.2" height="1" fill="#fff"/>
<rect x="310.6" y="657.79" width="1.2" height="1" fill="#fff"/>
<rect x="518.6" y="657.79" width="1.2" height="1" fill="#fff"/>
<rect x="310.6" y="650.62" width="1.2" height="1" fill="#fff"/>
<rect x="518.6" y="650.62" width="1.2" height="1" fill="#fff"/>
<rect x="310.6" y="643.44" width="1.2" height="1" fill="#fff"/>
<rect x="518.6" y="643.44" width="1.2" height="1" fill="#fff"/>
<rect x="310.6" y="636.26" width="1.2" height="1" fill="#fff"/>
<rect x="518.6" y="636.26" width="1.2" height="1" fill="#fff"/>
<rect x="310.6" y="629.08" width="1.2" height="1" fill="#fff"/>
<rect x="518.6" y="629.08" width="1.2" height="1" fill="#fff"/>
<rect x="310.6" y="621.9" width="1.2" height="1" fill="#fff"/>
<rect x="518.6" y="621.9" width="1.2" height="1" fill="#fff"/>
<line x1="330.8" y1="758" x2="330.8" y2="760.8" stroke="#333333" stroke-width="1"/>
<text x="330.8" y="769.2" font-size="8.3" fill="#4d4d4d" text-anchor="middle">5</text>
<line x1="356.4" y1="758" x2="356.4" y2="760.8" stroke="#333333" stroke-width="1"/>
<text x="356.4" y="769.2" font-size="8.3" fill="#4d4d4d" text-anchor="middle">6</text>
<line x1="382" y1="758" x2="382" y2="760.8" stroke="#333333" stroke-width="1"/>
<text x="382" y="769.2" font-size="8.3" fill="#4d4d4d" text-anchor="middle">7</text>
<line x1="407.6" y1="758" x2="407.6" y2="760.8" stroke="#333333" stroke-width="1"/>
<text x="407.6" y="769.2" font-size="8.3" fill="#4d4d4d" text-anchor="middle">8</text>
<line x1="433.2" y1="758" x2="433.2" y2="760.8" stroke="#333333" stroke-width="1"/>
<text x="433.2" y="769.2" font-size="8.3" fill="#4d4d4d" text-anchor="middle">9</text>
<line x1="458.8" y1="758" x2="458.8" y2="760.8" stroke="#333333" stroke-width="1"/>
<text x="458.8" y="769.2" font-size="8.3" fill="#4d4d4d" text-anchor="middle">10</text>
<line x1="484.4" y1="758" x2="484.4" y2="760.8" stroke="#333333" stroke-width="1"/>
<text x="484.4" y="769.2" font-size="8.3" fill="#4d4d4d" text-anchor="middle">11</text>
<line x1="510" y1="758" x2="510" y2="760.8" stroke="#333333" stroke-width="1"/>
<text x="510" y="769.2" font-size="8.3" fill="#4d4d4d" text-anchor="middle">12</text>
<line x1="308.4" y1="751.6" x2="311.2" y2="751.6" stroke="#333333" stroke-width="1"/>
<text x="306.9" y="754.6" font-size="8.3" fill="#4d4d4d" text-anchor="end">0</text>
<line x1="308.4" y1="737.25" x2="311.2" y2="737.25" stroke="#333333" stroke-width="1"/>
<text x="306.9" y="740.25" font-size="8.3" fill="#4d4d4d" text-anchor="end">50</text>
<line x1="308.4" y1="722.89" x2="311.2" y2="722.89" stroke="#333333" stroke-width="1"/>
<text x="306.9" y="725.89" font-size="8.3" fill="#4d4d4d" text-anchor="end">100</text>
<line x1="308.4" y1="708.53" x2="311.2" y2="708.53" stroke="#333333" stroke-width="1"/>
<text x="306.9" y="711.53" font-size="8.3" fill="#4d4d4d" text-anchor="end">150</text>
<line x1="308.4" y1="694.18" x2="311.2" y2="694.18" stroke="#333333" stroke-width="1"/>
<text x="306.9" y="697.18" font-size="8.3" fill="#4d4d4d" text-anchor="end">200</text>
<line x1="308.4" y1="679.83" x2="311.2" y2="679.83" stroke="#333333" stroke-width="1"/>
<text x="306.9" y="682.83" font-size="8.3" fill="#4d4d4d" text-anchor="end">250</text>
<line x1="308.4" y1="665.47" x2="311.2" y2="665.47" stroke="#333333" stroke-width="1"/>
<text x="306.9" y="668.47" font-size="8.3" fill="#4d4d4d" text-anchor="end">300</text>
<line x1="308.4" y1="651.12" x2="311.2" y2="651.12" stroke="#333333" stroke-width="1"/>
<text x="306.9" y="654.12" font-size="8.3" fill="#4d4d4d" text-anchor="end">350</text>
<line x1="308.4" y1="636.76" x2="311.2" y2="636.76" stroke="#333333" stroke-width="1"/>
<text x="306.9" y="639.76" font-size="8.3" fill="#4d4d4d" text-anchor="end">400</text>
<line x1="308.4" y1="622.4" x2="311.2" y2="622.4" stroke="#333333" stroke-width="1"/>
<text x="306.9" y="625.4" font-size="8.3" fill="#4d4d4d" text-anchor="end">450</text>
<text x="275.2" y="603.4" font-size="18" font-weight="bold" fill="#000">H</text>
<text x="311.8" y="608.3" font-size="11.3" fill="#000">T2D</text>
<text transform="translate(286,688.1) rotate(-90)" font-size="10" fill="#000" text-anchor="middle">Insulin secretion rate (pmol/min/m<tspan font-size='7' dy='-4'>2</tspan><tspan dy='4'>)</tspan></text>
<text x="415.2" y="781" font-size="10" fill="#000" text-anchor="middle">Glucose (mmol/L)</text>
<line x1="322.5" y1="638.3" x2="335.5" y2="638.3" stroke="#0000ff" stroke-width="1.2"/>
<circle cx="329" cy="638.3" r="1.1" fill="#0000ff"/>
<text x="341.5" y="641.3" font-size="8.3" fill="#000" textLength="43.2" lengthAdjust="spacingAndGlyphs">Dorzagliatin</text>
<line x1="322.5" y1="654.8" x2="335.5" y2="654.8" stroke="#ff0000" stroke-width="1.2"/>
<circle cx="329" cy="654.8" r="1.1" fill="#ff0000"/>
<text x="341.5" y="657.8" font-size="8.3" fill="#000" textLength="29.5" lengthAdjust="spacingAndGlyphs">Placebo</text>
<line x1="327.3" y1="722.5" x2="508.15" y2="666.5" stroke="#0000ff" stroke-width="1.2"/>
<path d="M320.2,722.5H334.6M320.2,721.1v2.8M334.6,721.1v2.8M327.3,717.1V727.3M325.9,717.1h2.8M325.9,727.3h2.8" stroke="#0000ff" stroke-width="1" fill="none"/>
<circle cx="327.3" cy="722.5" r="1.0" fill="#0000ff"/>
<path d="M505.8,666.5H510.8M505.8,665.1v2.8M510.8,665.1v2.8M508.15,657.7V675.5M506.75,657.7h2.8M506.75,675.5h2.8" stroke="#0000ff" stroke-width="1" fill="none"/>
<circle cx="508.15" cy="666.5" r="1.0" fill="#0000ff"/>
<line x1="335.6" y1="734.4" x2="508.15" y2="676.15" stroke="#ff0000" stroke-width="1.2"/>
<path d="M328.5,734.4H342.7M328.5,733v2.8M342.7,733v2.8M335.6,729.6V739.4M334.2,729.6h2.8M334.2,739.4h2.8" stroke="#ff0000" stroke-width="1" fill="none"/>
<circle cx="335.6" cy="734.4" r="1.0" fill="#ff0000"/>
<path d="M505.5,676.15H511M505.5,674.75v2.8M511,674.75v2.8M508.15,666V685M506.75,666h2.8M506.75,685h2.8" stroke="#ff0000" stroke-width="1" fill="none"/>
<circle cx="508.15" cy="676.15" r="1.0" fill="#ff0000"/>
</g></svg>
</body></html>
